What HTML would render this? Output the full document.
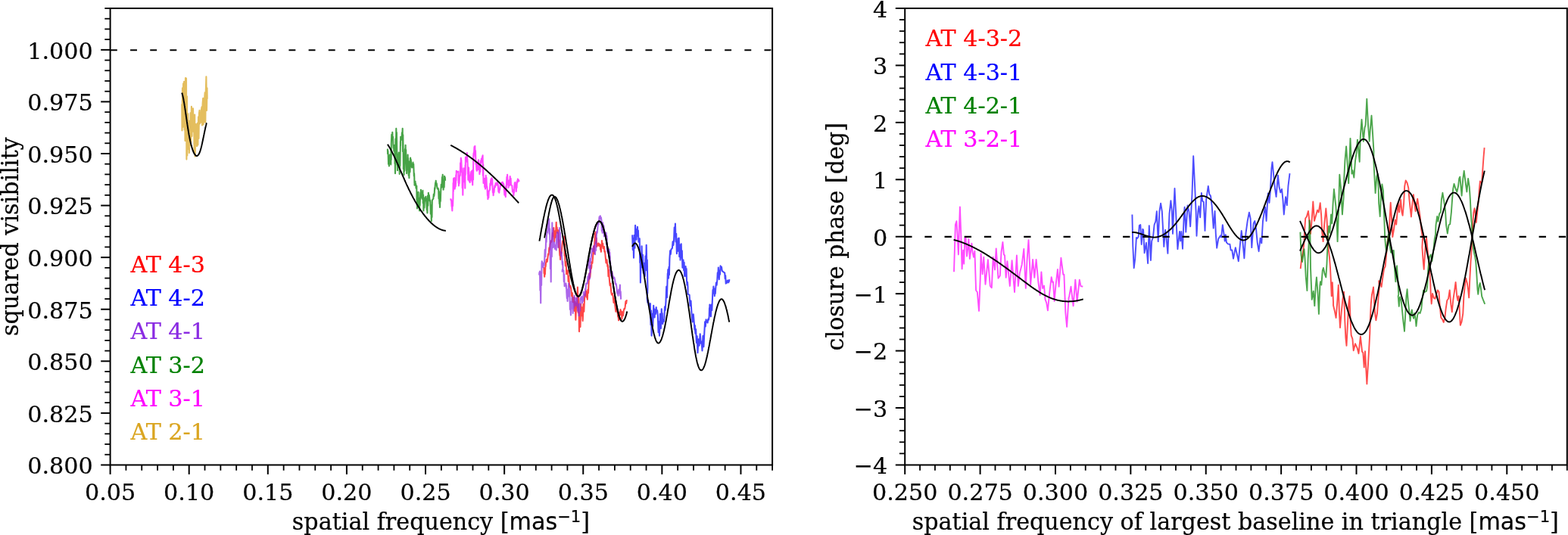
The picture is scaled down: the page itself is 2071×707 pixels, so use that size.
<!DOCTYPE html>
<html><head><meta charset="utf-8"><title>plot</title>
<style>
html,body{margin:0;padding:0;background:#fff}
svg{display:block}
.t{font-family:"DejaVu Serif","Liberation Serif",serif;font-size:30.5px;stroke-width:0.22px}
.s{font-family:"DejaVu Sans","Liberation Sans",sans-serif}
</style></head><body>
<svg width="2071" height="707" viewBox="0 0 2071 707">
<rect width="2071" height="707" fill="#fff"/>
<path d="M718.4 353.1 L718.6 361.2 L718.9 358.2 L719.2 365.6 L719.5 359.4 L719.9 362.4 L720.3 353.1 L720.5 350.6 L720.7 352.3 L720.9 348.6 L721.8 342.9 L722.7 345.9 L723.7 338.4 L724.1 335.5 L724.4 336.9 L724.8 333.9 L725.4 327.3 L726.0 329.9 L726.5 323.7 L727.5 318.5 L728.4 319.6 L729.3 314.6 L730.0 307.7 L730.6 309.4 L731.3 301.0 L731.6 312.8 L731.9 307.3 L732.2 319.2 L733.0 305.2 L733.8 313.6 L734.7 293.7 L735.2 304.7 L735.7 300.6 L736.1 307.8 L736.5 305.8 L736.9 306.5 L737.3 304.4 L737.8 326.4 L738.4 317.0 L739.0 331.6 L739.4 337.6 L739.7 333.5 L740.1 343.0 L740.9 332.8 L741.6 334.7 L742.4 324.8 L743.3 318.2 L744.3 321.1 L745.2 312.4 L745.6 337.9 L746.0 322.7 L746.3 343.0 L746.9 351.4 L747.5 345.9 L748.0 354.3 L748.1 360.2 L748.1 357.8 L748.1 362.3 L748.7 359.8 L749.3 360.3 L750.0 357.4 L750.6 372.0 L751.2 364.5 L751.8 374.6 L752.6 379.1 L753.4 377.8 L754.3 382.0 L755.1 391.3 L755.9 387.3 L756.7 399.3 L757.1 394.2 L757.5 397.7 L758.0 393.1 L758.8 410.9 L759.6 398.9 L760.4 422.7 L761.2 400.8 L762.1 406.0 L762.9 379.6 L763.6 413.1 L764.3 393.8 L765.0 438.1 L765.7 413.6 L766.5 431.9 L767.2 401.7 L768.0 417.3 L768.8 406.2 L769.7 423.9 L770.5 402.1 L771.3 411.7 L772.1 393.1 L772.7 388.5 L773.3 390.6 L774.0 384.5 L774.6 392.7 L775.2 387.8 L775.8 395.6 L776.4 382.8 L777.0 387.3 L777.7 370.9 L778.5 361.0 L779.3 366.5 L780.1 357.4 L780.5 351.3 L780.9 354.8 L781.4 350.0 L781.2 353.5 L781.0 350.8 L780.9 354.3 L781.6 346.2 L782.4 347.9 L783.1 339.6 L783.9 325.8 L784.7 335.1 L785.4 318.0 L785.8 308.7 L786.2 315.0 L786.5 306.7 L787.1 321.4 L787.7 314.5 L788.2 326.0 L789.0 322.3 L789.7 324.3 L790.5 321.4 L791.3 324.9 L792.0 322.7 L792.8 326.0 L793.1 330.0 L793.5 329.1 L793.9 332.8 L794.3 323.2 L794.7 325.6 L795.0 318.0 L795.6 325.5 L796.2 321.8 L796.7 328.2 L797.9 326.0 L798.4 332.7 L799.0 332.0 L799.6 338.4 L800.5 347.4 L801.5 343.2 L802.4 352.0 L803.5 354.3 L803.3 351.5 L803.1 353.3 L802.9 350.0 L803.5 365.1 L804.1 356.5 L804.8 368.5 L805.6 377.1 L806.4 374.8 L807.2 385.7 L808.0 389.5 L808.9 387.8 L809.7 391.9 L810.5 399.9 L811.3 394.6 L812.1 401.7 L813.4 411.8 L814.6 406.3 L815.8 414.0 L816.2 418.7 L816.7 418.4 L817.1 423.3 L817.9 412.8 L818.7 416.2 L819.5 409.1 L820.1 416.0 L820.8 411.6 L821.4 421.4 L822.2 412.3 L823.0 417.1 L823.8 410.3 L824.5 407.8 L825.1 408.3 L825.7 405.4 L826.4 398.4 L827.1 401.0 L827.8 396.2" fill="none" stroke="#ff0000" stroke-width="2.1" stroke-opacity="0.72" stroke-linejoin="round" stroke-linecap="butt"/>
<path d="M835.2 310.4 L835.8 330.3 L836.4 315.2 L837.0 340.8 L837.7 311.0 L838.4 327.8 L839.1 297.7 L839.6 310.0 L840.1 302.8 L840.6 316.8 L841.0 307.1 L841.5 310.6 L842.0 299.8 L842.4 311.8 L842.9 304.6 L843.4 319.6 L843.9 316.6 L844.3 318.2 L844.8 315.4 L845.2 347.1 L845.6 334.5 L845.9 373.4 L846.5 346.2 L847.1 352.9 L847.6 325.3 L848.3 353.5 L849.0 336.7 L849.8 360.6 L850.0 350.5 L850.2 358.4 L850.5 347.9 L850.9 359.4 L851.4 350.8 L851.9 364.9 L852.5 338.2 L853.1 357.3 L853.7 323.8 L854.3 353.9 L854.8 343.6 L855.4 379.0 L855.2 387.7 L854.9 381.8 L854.7 394.0 L855.4 399.8 L856.1 396.7 L856.8 403.9 L858.9 401.1 L859.5 429.3 L860.1 410.5 L860.6 443.6 L861.5 414.9 L862.3 430.9 L863.2 403.9 L863.7 414.5 L864.1 408.4 L864.6 419.5 L865.3 409.1 L866.0 414.8 L866.7 406.1 L867.4 412.0 L868.1 410.3 L868.8 416.7 L869.6 439.2 L870.3 425.4 L871.0 443.6 L871.9 414.9 L872.9 434.0 L873.8 408.2 L874.3 422.0 L874.7 414.1 L875.2 428.0 L875.9 423.4 L876.6 425.0 L877.3 420.9 L878.0 405.4 L878.7 410.0 L879.5 398.3 L880.2 378.8 L880.9 393.2 L881.6 370.0 L881.8 361.4 L882.0 363.9 L882.3 356.4 L882.5 363.6 L882.8 358.2 L883.0 367.7 L883.5 352.8 L883.9 363.3 L884.4 342.2 L885.1 331.4 L885.8 336.0 L886.5 329.5 L887.9 328.1 L888.6 319.3 L889.4 324.0 L890.1 316.8 L890.7 300.5 L891.3 312.3 L891.9 295.6 L892.6 319.4 L893.2 308.8 L893.9 335.2 L894.5 322.8 L895.1 331.9 L895.7 315.4 L896.7 314.7 L897.3 339.1 L897.9 323.5 L898.6 343.6 L898.9 329.3 L899.3 338.1 L899.7 322.4 L900.2 340.8 L900.8 331.3 L901.4 353.6 L901.8 345.7 L902.1 349.5 L902.5 343.6 L903.1 357.1 L903.6 346.9 L904.2 364.9 L904.7 354.9 L905.2 361.8 L905.6 352.1 L906.1 365.1 L906.6 355.1 L907.0 370.5 L907.5 376.7 L908.0 372.9 L908.5 379.0 L908.5 385.3 L908.5 381.8 L908.5 388.4 L910.6 389.8 L911.5 403.9 L912.5 397.6 L913.4 412.4 L914.6 425.5 L915.8 415.4 L916.9 428.0 L917.4 435.8 L917.9 430.1 L918.4 440.7 L918.6 436.4 L918.8 438.6 L919.1 435.1 L919.9 453.0 L920.7 444.3 L921.5 466.2 L922.5 448.2 L923.6 456.7 L924.7 441.4 L925.7 453.7 L926.6 451.5 L927.5 463.4 L928.5 443.7 L929.4 458.3 L930.4 437.9 L931.1 425.4 L931.8 431.5 L932.5 422.3 L933.2 425.6 L933.9 423.8 L934.6 426.6 L935.3 421.7 L936.0 422.6 L936.7 418.1 L937.0 407.1 L937.2 413.9 L937.4 402.5 L937.9 411.7 L938.4 409.8 L938.9 418.1 L939.6 402.5 L940.3 409.9 L941.0 394.0 L941.5 383.0 L941.9 387.2 L942.4 378.5 L942.9 387.6 L943.3 381.2 L943.8 391.2 L944.3 384.2 L944.8 388.0 L945.2 381.3 L945.9 373.5 L946.6 376.8 L947.3 370.0 L947.8 360.4 L948.3 366.5 L948.8 353.6 L949.1 361.9 L949.4 357.4 L949.8 369.1 L950.4 360.2 L951.0 362.6 L951.6 351.4 L952.3 355.3 L953.0 352.8 L953.7 357.8 L955.1 359.2 L957.2 360.6 L957.7 368.2 L958.2 364.1 L958.7 374.8 L959.4 372.3 L960.1 373.7 L960.8 370.5 L962.2 373.4 L962.6 370.5 L963.0 371.9 L963.3 369.1" fill="none" stroke="#0000ff" stroke-width="2.1" stroke-opacity="0.72" stroke-linejoin="round" stroke-linecap="butt"/>
<path d="M712.1 363.5 L712.4 360.1 L712.7 361.6 L713.0 358.6 L713.4 383.8 L713.8 372.4 L714.2 400.5 L714.6 359.5 L715.1 377.1 L715.5 350.0 L715.6 347.4 L715.7 348.9 L715.8 345.2 L716.3 349.3 L716.9 347.6 L717.5 353.1 L718.0 348.5 L718.6 350.3 L719.2 344.1 L719.7 330.1 L720.3 339.3 L720.9 324.8 L721.2 314.8 L721.6 320.0 L722.0 311.2 L722.6 305.5 L723.1 307.3 L723.7 299.9 L724.2 293.6 L724.7 296.7 L725.2 289.2 L725.6 309.2 L726.1 302.3 L726.5 322.6 L726.9 355.2 L727.3 332.8 L727.7 372.4 L728.2 318.4 L728.8 339.3 L729.3 294.3 L729.7 314.2 L730.1 301.7 L730.5 327.1 L731.0 322.8 L731.6 323.8 L732.2 320.3 L733.0 328.9 L733.8 324.2 L734.7 330.5 L735.2 311.1 L735.7 319.9 L736.1 306.7 L736.5 319.6 L736.9 310.4 L737.3 327.1 L737.8 308.1 L738.4 318.1 L739.0 301.0 L739.4 318.8 L739.9 307.5 L740.3 329.4 L741.0 338.1 L741.7 333.6 L742.4 343.0 L742.8 349.7 L743.1 345.8 L743.5 354.3 L743.2 357.1 L742.9 356.2 L742.6 358.6 L744.4 357.4 L744.8 372.2 L745.2 362.6 L745.6 378.3 L746.3 376.1 L746.9 377.2 L747.5 374.6 L747.8 381.0 L748.1 377.1 L748.3 385.7 L748.8 394.1 L749.2 387.9 L749.6 398.0 L750.1 382.4 L750.6 391.6 L751.2 374.6 L751.6 383.8 L752.0 379.7 L752.4 386.9 L752.9 408.9 L753.4 398.5 L753.9 416.5 L754.4 401.7 L755.0 407.5 L755.5 393.1 L755.9 406.1 L756.3 400.4 L756.7 414.0 L757.3 399.7 L758.0 406.9 L758.6 390.6 L759.2 397.7 L759.8 393.8 L760.4 404.2 L761.0 394.9 L761.7 401.6 L762.3 393.1 L763.1 410.9 L763.9 402.2 L764.7 417.1 L765.3 401.8 L766.0 410.7 L766.6 396.8 L767.2 393.3 L767.8 395.9 L768.4 391.9 L768.6 396.4 L768.8 393.8 L769.0 400.5 L769.7 392.3 L770.3 397.8 L770.9 385.7 L771.5 388.4 L772.1 387.4 L772.7 390.6 L773.1 381.6 L773.6 382.9 L774.0 374.6 L775.8 374.6 L776.4 365.5 L777.0 370.5 L777.7 362.3 L778.1 366.9 L778.5 363.8 L778.9 368.5 L779.3 353.2 L779.7 360.3 L780.1 350.0 L779.2 353.2 L778.4 351.4 L777.5 354.3 L778.6 341.7 L779.7 347.8 L780.9 338.4 L782.0 328.5 L783.1 332.0 L784.3 324.8 L784.8 333.0 L785.4 328.0 L786.0 336.2 L786.5 319.7 L787.1 331.0 L787.7 312.4 L788.2 305.9 L788.8 307.8 L789.4 301.0 L789.9 294.0 L790.5 296.6 L791.1 292.0 L791.6 286.6 L792.2 289.7 L792.8 285.2 L793.3 288.8 L793.9 287.4 L794.5 292.0 L794.8 305.1 L795.2 298.7 L795.6 307.8 L795.8 298.7 L796.0 303.6 L796.2 294.3 L796.7 304.7 L797.3 298.1 L797.9 312.4 L798.8 310.0 L799.8 310.3 L800.7 307.8 L801.1 323.4 L801.5 312.1 L801.8 329.4 L802.2 332.3 L802.6 330.1 L803.0 333.9 L803.5 331.3 L804.1 332.1 L804.7 329.4 L805.0 339.3 L805.4 333.7 L805.8 343.0 L806.0 349.7 L806.2 347.2 L806.4 354.3 L806.0 356.2 L807.2 364.4 L808.4 359.1 L809.7 366.0 L810.5 367.9 L811.3 366.6 L812.1 369.7 L813.0 375.6 L813.8 375.1 L814.6 380.8 L815.2 387.6 L815.8 385.2 L816.5 390.6 L817.3 382.7 L818.1 387.2 L818.9 376.5 L819.3 390.6 L819.7 385.3 L820.1 395.6" fill="none" stroke="#8a2be2" stroke-width="2.1" stroke-opacity="0.72" stroke-linejoin="round" stroke-linecap="butt"/>
<path d="M511.9 196.6 L512.1 203.3 L512.4 199.3 L512.7 204.6 L513.1 217.0 L513.5 210.5 L513.9 219.4 L514.2 208.4 L514.5 216.1 L514.9 204.6 L515.1 210.4 L515.4 205.6 L515.6 211.5 L515.9 215.0 L516.1 213.3 L516.3 217.4 L516.5 196.0 L516.7 211.3 L516.8 189.7 L517.3 177.8 L517.8 182.4 L518.3 174.9 L518.6 184.2 L519.0 180.9 L519.3 191.7 L519.6 195.7 L520.0 193.9 L520.3 199.6 L520.6 195.5 L521.0 195.8 L521.3 191.7 L521.5 216.2 L521.7 209.8 L522.0 229.3 L522.4 183.3 L522.8 202.4 L523.3 169.9 L523.6 186.6 L523.9 175.1 L524.3 199.6 L524.5 217.9 L524.7 205.0 L525.0 225.3 L525.3 213.4 L525.6 220.7 L525.9 209.5 L526.2 204.1 L526.5 205.7 L526.7 201.6 L527.1 220.9 L527.4 206.9 L527.7 229.9 L528.1 213.1 L528.4 219.6 L528.7 199.6 L528.9 186.7 L529.0 192.6 L529.2 180.8 L529.6 183.3 L530.1 182.3 L530.5 184.8 L530.9 175.3 L531.3 179.3 L531.7 169.9 L532.0 200.3 L532.3 178.3 L532.7 209.5 L532.9 223.3 L533.2 216.6 L533.5 231.3 L533.8 215.2 L534.1 226.1 L534.5 209.5 L534.9 197.1 L535.2 202.9 L535.6 191.7 L535.9 210.2 L536.2 198.0 L536.4 214.5 L536.7 225.2 L537.0 217.7 L537.2 229.3 L537.7 212.6 L538.2 224.0 L538.6 204.6 L538.9 216.8 L539.1 209.0 L539.4 219.4 L539.7 231.9 L540.1 224.1 L540.4 235.2 L541.0 213.4 L541.5 227.4 L542.1 208.5 L542.4 212.8 L542.7 210.9 L543.1 215.4 L543.4 220.2 L543.7 218.1 L544.1 221.4 L544.6 216.5 L545.0 220.1 L545.5 214.5 L545.9 221.5 L546.2 216.8 L546.5 224.4 L546.8 232.6 L547.1 229.4 L547.3 235.2 L547.4 241.7 L547.5 238.7 L547.5 244.8 L547.9 242.2 L548.2 243.1 L548.5 239.9 L548.8 244.7 L549.2 243.1 L549.5 248.8 L550.3 245.8 L550.5 264.4 L550.8 258.2 L551.0 275.5 L551.5 264.2 L552.0 271.4 L552.5 253.7 L553.0 272.0 L553.5 261.9 L554.0 278.5 L554.3 267.4 L554.6 271.4 L555.0 262.6 L555.3 254.7 L555.6 257.5 L555.9 250.7 L556.3 255.4 L556.6 254.0 L556.9 257.7 L557.1 261.3 L557.3 258.7 L557.4 262.6 L557.8 255.8 L558.1 257.7 L558.4 251.7 L558.7 268.4 L559.1 257.5 L559.4 278.5 L559.9 269.2 L560.4 274.5 L560.9 264.6 L561.4 261.1 L561.9 263.1 L562.4 259.7 L562.7 265.5 L563.0 262.6 L563.4 269.6 L563.7 277.2 L564.0 275.1 L564.4 281.4 L564.9 258.9 L565.3 271.6 L565.8 254.7 L566.3 258.9 L566.8 257.9 L567.3 262.6 L567.7 265.5 L568.0 264.4 L568.3 266.6 L568.8 282.6 L569.3 271.0 L569.8 292.3 L570.1 272.5 L570.5 287.0 L570.8 264.6 L572.3 262.6 L572.8 256.6 L573.3 259.2 L573.8 254.7 L574.1 248.3 L574.4 249.9 L574.8 244.8 L575.1 241.5 L575.4 242.0 L575.7 238.9 L576.2 244.1 L576.7 242.2 L577.2 246.8 L577.9 249.8 L578.5 248.7 L579.2 250.7 L579.5 262.4 L579.9 253.0 L580.2 264.6 L580.5 269.4 L580.7 267.8 L581.0 274.0 L581.4 263.1 L581.8 265.9 L582.2 252.7 L582.7 243.9 L583.2 247.8 L583.7 239.9 L584.0 234.0 L584.3 237.7 L584.7 230.9 L585.0 247.4 L585.3 239.0 L585.6 250.7 L586.1 241.8 L586.6 247.4 L587.1 232.9 L587.5 237.2 L587.8 234.4 L588.1 238.9" fill="none" stroke="#008000" stroke-width="2.1" stroke-opacity="0.72" stroke-linejoin="round" stroke-linecap="butt"/>
<path d="M595.2 262.4 L595.5 264.3 L595.9 263.9 L596.2 265.7 L596.6 273.0 L596.9 271.8 L597.3 278.5 L597.7 267.1 L598.0 272.3 L598.4 261.5 L598.6 241.9 L598.8 253.1 L599.0 236.0 L600.1 235.2 L600.3 243.9 L600.5 238.3 L600.7 249.6 L601.1 245.6 L601.6 246.5 L602.0 242.0 L602.3 231.4 L602.5 238.6 L602.8 225.8 L604.1 227.5 L605.4 226.6 L605.5 241.8 L605.7 231.2 L605.9 245.4 L606.2 237.7 L606.6 242.4 L606.9 233.5 L607.8 231.8 L608.1 215.2 L608.4 223.7 L608.8 208.8 L609.1 216.0 L609.3 211.3 L609.6 219.0 L609.9 227.7 L610.2 222.4 L610.5 233.5 L610.7 248.4 L611.0 238.3 L611.3 257.7 L611.7 238.0 L612.2 240.5 L612.6 222.4 L612.9 228.8 L613.2 224.0 L613.4 230.1 L613.7 239.6 L614.0 234.2 L614.3 248.8 L614.5 218.4 L614.7 231.5 L614.9 207.9 L615.2 210.1 L615.6 209.5 L616.0 212.3 L616.3 207.1 L616.6 208.9 L616.8 202.0 L617.1 214.3 L617.4 210.4 L617.7 219.0 L617.9 230.1 L618.1 227.1 L618.3 237.7 L618.5 224.7 L618.7 230.1 L619.0 221.5 L619.2 230.4 L619.5 227.1 L619.8 239.3 L620.7 241.1 L621.1 231.8 L621.5 237.9 L621.9 230.1 L622.4 226.7 L622.8 228.6 L623.2 225.8 L623.5 240.2 L623.9 231.8 L624.2 244.5 L624.6 224.6 L625.0 237.5 L625.3 205.4 L625.6 202.2 L625.9 204.0 L626.2 199.5 L626.5 194.1 L626.9 197.1 L627.3 193.1 L627.6 206.8 L628.0 199.1 L628.3 210.5 L628.6 217.3 L628.9 214.6 L629.1 219.9 L629.4 224.7 L629.7 222.7 L630.0 225.8 L630.4 218.5 L630.8 224.1 L631.3 216.5 L631.5 213.3 L631.8 215.7 L632.1 211.3 L632.5 224.3 L633.0 219.4 L633.4 230.1 L633.8 223.1 L634.2 227.2 L634.7 216.5 L635.1 212.2 L635.5 214.9 L635.9 209.6 L636.8 212.3 L637.1 206.9 L637.3 210.4 L637.6 205.4 L637.9 231.9 L638.2 217.2 L638.5 242.0 L638.9 237.8 L639.3 239.1 L639.8 236.0 L640.2 247.3 L640.6 238.6 L641.0 249.6 L641.3 235.4 L641.5 244.8 L641.7 231.7 L642.0 237.6 L642.4 234.8 L642.7 242.7 L643.0 248.0 L643.3 246.5 L643.6 250.5 L643.9 258.5 L644.1 252.4 L644.4 263.2 L644.8 255.0 L645.3 261.3 L645.7 253.0 L647.0 250.5 L647.4 242.5 L647.8 245.1 L648.2 238.6 L648.7 236.3 L649.1 237.5 L649.5 235.2 L649.9 243.8 L650.2 236.9 L650.5 246.2 L650.9 254.5 L651.3 249.7 L651.6 258.1 L652.1 250.2 L652.5 254.1 L652.9 248.8 L653.5 245.2 L654.0 247.3 L654.6 242.0 L655.6 244.5 L656.0 242.3 L656.4 243.2 L656.7 241.1 L657.2 244.8 L657.6 242.8 L658.0 247.1 L658.4 253.4 L658.9 250.8 L659.3 254.7 L659.7 249.3 L660.1 250.8 L660.6 246.2 L661.0 243.6 L661.4 245.5 L661.8 242.0 L663.9 240.7 L664.5 244.5 L665.1 242.8 L665.6 246.2 L666.4 257.6 L667.1 253.1 L667.8 260.2 L668.2 246.2 L668.6 252.6 L669.0 242.0 L669.4 233.7 L669.8 237.6 L670.1 230.9 L670.6 244.0 L671.1 239.3 L671.6 247.9 L672.3 238.5 L673.0 245.3 L673.7 233.1 L674.1 239.8 L674.6 235.7 L675.0 244.5 L676.3 245.4 L677.0 253.4 L677.7 250.9 L678.4 258.1 L678.7 251.9 L679.1 254.5 L679.4 246.2 L679.8 241.9 L680.1 244.9 L680.5 240.7 L680.9 247.1 L681.3 243.6 L681.8 253.0 L682.1 247.2 L682.5 248.2 L682.8 242.0 L683.2 238.9 L683.5 240.8 L683.9 236.5 L684.5 239.5 L685.0 238.1 L685.6 240.3" fill="none" stroke="#ff00ff" stroke-width="2.1" stroke-opacity="0.72" stroke-linejoin="round" stroke-linecap="butt"/>
<path d="M240.2 137.4 L240.5 172.4 L241.0 116.2 L241.5 168.0 L242.1 110.3 L242.6 162.9 L243.1 107.7 L243.6 171.4 L244.1 107.7 L244.5 186.0 L245.0 103.1 L245.5 179.9 L246.0 103.5 L246.4 210.6 L246.9 127.3 L247.3 205.4 L247.8 171.4 L248.3 150.2 L248.8 196.9 L249.4 159.5 L249.9 202.1 L250.5 162.9 L251.0 192.6 L251.6 149.3 L252.2 188.4 L252.9 140.8 L253.5 179.9 L254.0 145.9 L254.5 171.4 L255.0 143.4 L255.6 173.9 L256.1 154.4 L256.6 201.1 L257.2 151.5 L257.7 206.8 L258.2 163.8 L258.9 188.4 L259.5 164.6 L260.1 193.2 L260.7 162.9 L261.4 191.5 L262.0 154.4 L262.5 183.0 L263.0 149.3 L263.5 145.9 L264.0 163.5 L264.6 150.2 L265.1 161.8 L265.8 145.9 L266.5 141.3 L267.0 165.6 L267.6 137.4 L268.2 129.8 L268.7 164.4 L269.2 139.1 L269.7 161.2 L270.2 129.0 L270.7 122.2 L271.3 161.8 L271.8 120.5 L272.4 101.4 L273.0 145.9 L273.5 116.2 L273.7 130.7" fill="none" stroke="#daa520" stroke-width="2.1" stroke-opacity="0.72" stroke-linejoin="round" stroke-linecap="butt"/>
<path d="M719.1 314.4 L719.4 313.0 L719.6 311.5 L719.9 310.0 L720.2 308.5 L720.5 307.0 L720.7 305.5 L721.0 304.0 L721.3 302.4 L721.6 300.9 L721.8 299.3 L722.1 297.8 L722.4 296.2 L722.7 294.7 L722.9 293.2 L723.2 291.6 L723.5 290.1 L723.7 288.6 L724.0 287.1 L724.3 285.6 L724.6 284.2 L724.8 282.8 L725.1 281.4 L725.4 280.0 L725.7 278.6 L725.9 277.3 L726.2 276.0 L726.5 274.8 L726.8 273.5 L727.0 272.4 L727.3 271.2 L727.6 270.1 L727.9 269.1 L728.1 268.1 L728.4 267.1 L728.7 266.2 L728.9 265.4 L729.2 264.6 L729.5 263.9 L729.8 263.2 L730.0 262.6 L730.3 262.0 L730.6 261.6 L730.9 261.2 L731.1 260.8 L731.4 260.5 L731.7 260.3 L732.0 260.1 L732.2 260.0 L732.5 260.0 L732.8 260.0 L733.1 260.0 L733.3 260.1 L733.6 260.3 L733.9 260.5 L734.1 260.8 L734.4 261.1 L734.7 261.5 L735.0 261.9 L735.2 262.4 L735.5 262.9 L735.8 263.4 L736.1 264.0 L736.3 264.7 L736.6 265.4 L736.9 266.1 L737.2 266.9 L737.4 267.7 L737.7 268.6 L738.0 269.5 L738.3 270.4 L738.5 271.4 L738.8 272.4 L739.1 273.4 L739.3 274.5 L739.6 275.6 L739.9 276.8 L740.2 277.9 L740.4 279.1 L740.7 280.4 L741.0 281.6 L741.3 282.9 L741.5 284.2 L741.8 285.6 L742.1 287.0 L742.4 288.3 L742.6 289.8 L742.9 291.2 L743.2 292.6 L743.5 294.1 L743.7 295.6 L744.0 297.1 L744.3 298.7 L744.5 300.2 L744.8 301.8 L745.1 303.4 L745.4 305.0 L745.6 306.6 L745.9 308.2 L746.2 309.8 L746.5 311.5 L746.7 313.1 L747.0 314.8 L747.3 316.5 L747.6 318.2 L747.8 319.9 L748.1 321.5 L748.4 323.3 L748.7 325.0 L748.9 326.7 L749.2 328.4 L749.5 330.1 L749.7 331.8 L750.0 333.5 L750.3 335.2 L750.6 336.9 L750.8 338.7 L751.1 340.4 L751.4 342.1 L751.7 343.8 L751.9 345.5 L752.2 347.1 L752.5 348.8 L752.8 350.5 L753.0 352.1 L753.3 353.8 L753.6 355.4 L753.9 357.0 L754.1 358.6 L754.4 360.2 L754.7 361.7 L754.9 363.3 L755.2 364.8 L755.5 366.3 L755.8 367.7 L756.0 369.1 L756.3 370.5 L756.6 371.9 L756.9 373.2 L757.1 374.5 L757.4 375.8 L757.7 377.0 L758.0 378.2 L758.2 379.4 L758.5 380.5 L758.8 381.5 L759.1 382.6 L759.3 383.5 L759.6 384.5 L759.9 385.3 L760.1 386.2 L760.4 386.9 L760.7 387.7 L761.0 388.3 L761.2 388.9 L761.5 389.5 L761.8 390.0 L762.1 390.4 L762.3 390.8 L762.6 391.1 L762.9 391.3 L763.2 391.5 L763.4 391.6 L763.7 391.6 L764.0 391.6 L764.3 391.5 L764.5 391.4 L764.8 391.2 L765.1 390.9 L765.3 390.6 L765.6 390.2 L765.9 389.8 L766.2 389.3 L766.4 388.8 L766.7 388.2 L767.0 387.6 L767.3 386.9 L767.5 386.2 L767.8 385.4 L768.1 384.6 L768.4 383.8 L768.6 382.9 L768.9 382.0 L769.2 381.0 L769.4 380.0 L769.7 378.9 L770.0 377.9 L770.3 376.8 L770.5 375.6 L770.8 374.5 L771.1 373.3 L771.4 372.0 L771.6 370.8 L771.9 369.5 L772.2 368.2 L772.5 366.9 L772.7 365.5 L773.0 364.2 L773.3 362.8 L773.6 361.4 L773.8 359.9 L774.1 358.5 L774.4 357.0 L774.6 355.6 L774.9 354.1 L775.2 352.6 L775.5 351.1 L775.7 349.6 L776.0 348.1 L776.3 346.6 L776.6 345.1 L776.8 343.6 L777.1 342.0 L777.4 340.5 L777.7 339.0 L777.9 337.5 L778.2 336.0 L778.5 334.5 L778.8 333.0 L779.0 331.5 L779.3 330.0 L779.6 328.6 L779.8 327.1 L780.1 325.7 L780.4 324.3 L780.7 322.8 L780.9 321.5 L781.2 320.1 L781.5 318.7 L781.8 317.4 L782.0 316.1 L782.3 314.8 L782.6 313.6 L782.9 312.3 L783.1 311.2 L783.4 310.0 L783.7 308.8 L784.0 307.7 L784.2 306.7 L784.5 305.6 L784.8 304.6 L785.0 303.7 L785.3 302.8 L785.6 301.9 L785.9 301.0 L786.1 300.2 L786.4 299.4 L786.7 298.7 L787.0 298.0 L787.2 297.4 L787.5 296.7 L787.8 296.2 L788.1 295.6 L788.3 295.1 L788.6 294.7 L788.9 294.3 L789.2 293.9 L789.4 293.6 L789.7 293.3 L790.0 293.0 L790.2 292.8 L790.5 292.6 L790.8 292.5 L791.1 292.4 L791.3 292.4 L791.6 292.4 L791.9 292.4 L792.2 292.5 L792.4 292.7 L792.7 292.9 L793.0 293.1 L793.3 293.4 L793.5 293.7 L793.8 294.0 L794.1 294.4 L794.4 294.9 L794.6 295.4 L794.9 295.9 L795.2 296.5 L795.4 297.1 L795.7 297.8 L796.0 298.5 L796.3 299.3 L796.5 300.1 L796.8 301.0 L797.1 301.9 L797.4 302.9 L797.6 303.8 L797.9 304.9 L798.2 305.9 L798.5 307.0 L798.7 308.2 L799.0 309.4 L799.3 310.6 L799.6 311.8 L799.8 313.1 L800.1 314.4 L800.4 315.8 L800.6 317.2 L800.9 318.6 L801.2 320.0 L801.5 321.5 L801.7 323.0 L802.0 324.5 L802.3 326.0 L802.6 327.6 L802.8 329.2 L803.1 330.8 L803.4 332.5 L803.7 334.2 L803.9 335.9 L804.2 337.6 L804.5 339.3 L804.8 341.0 L805.0 342.8 L805.3 344.6 L805.6 346.4 L805.8 348.2 L806.1 350.0 L806.4 351.9 L806.7 353.7 L806.9 355.6 L807.2 357.4 L807.5 359.3 L807.8 361.2 L808.0 363.1 L808.3 365.0 L808.6 366.9 L808.9 368.7 L809.1 370.6 L809.4 372.5 L809.7 374.4 L810.0 376.2 L810.2 378.1 L810.5 379.9 L810.8 381.7 L811.0 383.6 L811.3 385.3 L811.6 387.1 L811.9 388.9 L812.1 390.6 L812.4 392.3 L812.7 394.0 L813.0 395.6 L813.2 397.3 L813.5 398.9 L813.8 400.4 L814.1 401.9 L814.3 403.4 L814.6 404.9 L814.9 406.3 L815.2 407.6 L815.4 409.0 L815.7 410.2 L816.0 411.5 L816.2 412.7 L816.5 413.8 L816.8 414.9 L817.1 415.9 L817.3 416.9 L817.6 417.8 L817.9 418.6 L818.2 419.4 L818.4 420.2 L818.7 420.9 L819.0 421.5 L819.3 422.1 L819.5 422.6 L819.8 423.0 L820.1 423.4 L820.4 423.8 L820.6 424.1 L820.9 424.3 L821.2 424.5 L821.4 424.7 L821.7 424.7 L822.0 424.8 L822.3 424.7 L822.5 424.7 L822.8 424.5 L823.1 424.4 L823.4 424.1 L823.6 423.8 L823.9 423.5 L824.2 423.1 L824.5 422.7 L824.7 422.2 L825.0 421.7 L825.3 421.1 L825.6 420.5 L825.8 419.8 L826.1 419.0 L826.4 418.3 L826.6 417.4 L826.9 416.6 L827.2 415.6 L827.5 414.7 L827.7 413.7 L828.0 412.6 L828.3 411.5" fill="none" stroke="#000" stroke-width="1.95" stroke-opacity="1.0" stroke-linejoin="round" stroke-linecap="butt"/>
<path d="M835.2 326.0 L835.5 325.2 L835.8 324.5 L836.1 323.8 L836.5 323.3 L836.8 322.8 L837.1 322.4 L837.4 322.0 L837.8 321.8 L838.1 321.6 L838.4 321.5 L838.7 321.4 L839.0 321.4 L839.4 321.5 L839.7 321.7 L840.0 321.9 L840.3 322.2 L840.6 322.6 L841.0 323.0 L841.3 323.5 L841.6 324.0 L841.9 324.7 L842.2 325.3 L842.6 326.1 L842.9 326.9 L843.2 327.8 L843.5 328.7 L843.8 329.7 L844.2 330.8 L844.5 331.9 L844.8 333.1 L845.1 334.3 L845.4 335.6 L845.8 336.9 L846.1 338.3 L846.4 339.8 L846.7 341.3 L847.1 342.9 L847.4 344.5 L847.7 346.1 L848.0 347.8 L848.3 349.6 L848.7 351.4 L849.0 353.2 L849.3 355.0 L849.6 356.9 L849.9 358.8 L850.3 360.8 L850.6 362.8 L850.9 364.8 L851.2 366.8 L851.5 368.8 L851.9 370.9 L852.2 373.0 L852.5 375.1 L852.8 377.2 L853.1 379.3 L853.5 381.4 L853.8 383.6 L854.1 385.7 L854.4 387.8 L854.8 390.0 L855.1 392.1 L855.4 394.2 L855.7 396.4 L856.0 398.5 L856.4 400.6 L856.7 402.7 L857.0 404.7 L857.3 406.8 L857.6 408.8 L858.0 410.8 L858.3 412.8 L858.6 414.8 L858.9 416.7 L859.2 418.6 L859.6 420.5 L859.9 422.4 L860.2 424.2 L860.5 426.0 L860.8 427.7 L861.2 429.4 L861.5 431.1 L861.8 432.7 L862.1 434.2 L862.5 435.8 L862.8 437.2 L863.1 438.6 L863.4 440.0 L863.7 441.3 L864.1 442.6 L864.4 443.8 L864.7 444.9 L865.0 446.0 L865.3 447.0 L865.7 447.9 L866.0 448.8 L866.3 449.6 L866.6 450.3 L866.9 451.0 L867.3 451.5 L867.6 452.0 L867.9 452.5 L868.2 452.8 L868.5 453.1 L868.9 453.3 L869.2 453.4 L869.5 453.5 L869.8 453.5 L870.2 453.4 L870.5 453.2 L870.8 453.0 L871.1 452.7 L871.4 452.4 L871.8 451.9 L872.1 451.4 L872.4 450.9 L872.7 450.3 L873.0 449.6 L873.4 448.9 L873.7 448.1 L874.0 447.2 L874.3 446.3 L874.6 445.4 L875.0 444.3 L875.3 443.3 L875.6 442.1 L875.9 441.0 L876.2 439.7 L876.6 438.4 L876.9 437.1 L877.2 435.7 L877.5 434.3 L877.9 432.8 L878.2 431.3 L878.5 429.7 L878.8 428.1 L879.1 426.4 L879.5 424.8 L879.8 423.0 L880.1 421.3 L880.4 419.5 L880.7 417.7 L881.1 415.9 L881.4 414.1 L881.7 412.2 L882.0 410.4 L882.3 408.5 L882.7 406.7 L883.0 404.8 L883.3 402.9 L883.6 401.0 L883.9 399.2 L884.3 397.3 L884.6 395.5 L884.9 393.7 L885.2 391.9 L885.6 390.1 L885.9 388.3 L886.2 386.6 L886.5 384.9 L886.8 383.2 L887.2 381.6 L887.5 380.0 L887.8 378.5 L888.1 376.9 L888.4 375.5 L888.8 374.1 L889.1 372.7 L889.4 371.4 L889.7 370.2 L890.0 369.0 L890.4 367.8 L890.7 366.7 L891.0 365.7 L891.3 364.7 L891.6 363.8 L892.0 362.9 L892.3 362.1 L892.6 361.4 L892.9 360.7 L893.3 360.1 L893.6 359.5 L893.9 359.0 L894.2 358.5 L894.5 358.1 L894.9 357.8 L895.2 357.5 L895.5 357.3 L895.8 357.1 L896.1 357.0 L896.5 357.0 L896.8 357.1 L897.1 357.2 L897.4 357.3 L897.7 357.6 L898.1 357.9 L898.4 358.2 L898.7 358.7 L899.0 359.2 L899.3 359.7 L899.7 360.4 L900.0 361.1 L900.3 361.8 L900.6 362.6 L901.0 363.5 L901.3 364.5 L901.6 365.5 L901.9 366.6 L902.2 367.7 L902.6 368.9 L902.9 370.1 L903.2 371.4 L903.5 372.8 L903.8 374.2 L904.2 375.6 L904.5 377.1 L904.8 378.7 L905.1 380.3 L905.4 382.0 L905.8 383.6 L906.1 385.4 L906.4 387.2 L906.7 389.0 L907.0 390.9 L907.4 392.8 L907.7 394.7 L908.0 396.7 L908.3 398.7 L908.7 400.8 L909.0 402.8 L909.3 405.0 L909.6 407.1 L909.9 409.3 L910.3 411.5 L910.6 413.8 L910.9 416.0 L911.2 418.3 L911.5 420.6 L911.9 422.9 L912.2 425.2 L912.5 427.5 L912.8 429.9 L913.1 432.2 L913.5 434.5 L913.8 436.8 L914.1 439.1 L914.4 441.4 L914.7 443.7 L915.1 445.9 L915.4 448.1 L915.7 450.3 L916.0 452.5 L916.4 454.6 L916.7 456.7 L917.0 458.8 L917.3 460.8 L917.6 462.8 L918.0 464.7 L918.3 466.5 L918.6 468.3 L918.9 470.1 L919.2 471.7 L919.6 473.3 L919.9 474.9 L920.2 476.3 L920.5 477.7 L920.8 479.0 L921.2 480.2 L921.5 481.4 L921.8 482.4 L922.1 483.4 L922.4 484.3 L922.8 485.2 L923.1 485.9 L923.4 486.6 L923.7 487.2 L924.0 487.7 L924.4 488.2 L924.7 488.5 L925.0 488.9 L925.3 489.1 L925.7 489.2 L926.0 489.3 L926.3 489.3 L926.6 489.3 L926.9 489.2 L927.3 489.0 L927.6 488.7 L927.9 488.4 L928.2 488.0 L928.5 487.5 L928.9 487.0 L929.2 486.4 L929.5 485.7 L929.8 485.0 L930.1 484.2 L930.5 483.4 L930.8 482.5 L931.1 481.5 L931.4 480.5 L931.7 479.4 L932.1 478.2 L932.4 477.0 L932.7 475.7 L933.0 474.4 L933.4 473.1 L933.7 471.7 L934.0 470.2 L934.3 468.8 L934.6 467.2 L935.0 465.7 L935.3 464.1 L935.6 462.5 L935.9 460.9 L936.2 459.2 L936.6 457.5 L936.9 455.8 L937.2 454.1 L937.5 452.4 L937.8 450.6 L938.2 448.9 L938.5 447.1 L938.8 445.3 L939.1 443.6 L939.4 441.8 L939.8 440.1 L940.1 438.3 L940.4 436.6 L940.7 434.8 L941.1 433.1 L941.4 431.4 L941.7 429.7 L942.0 428.1 L942.3 426.4 L942.7 424.8 L943.0 423.2 L943.3 421.7 L943.6 420.1 L943.9 418.6 L944.3 417.2 L944.6 415.7 L944.9 414.3 L945.2 413.0 L945.5 411.6 L945.9 410.4 L946.2 409.1 L946.5 407.9 L946.8 406.8 L947.1 405.7 L947.5 404.6 L947.8 403.6 L948.1 402.6 L948.4 401.7 L948.8 400.9 L949.1 400.1 L949.4 399.3 L949.7 398.6 L950.0 398.0 L950.4 397.4 L950.7 396.9 L951.0 396.5 L951.3 396.1 L951.6 395.8 L952.0 395.5 L952.3 395.3 L952.6 395.2 L952.9 395.2 L953.2 395.3 L953.6 395.4 L953.9 395.5 L954.2 395.8 L954.5 396.1 L954.8 396.5 L955.2 396.9 L955.5 397.4 L955.8 398.0 L956.1 398.6 L956.5 399.3 L956.8 400.0 L957.1 400.8 L957.4 401.7 L957.7 402.6 L958.1 403.6 L958.4 404.6 L958.7 405.7 L959.0 406.8 L959.3 408.0 L959.7 409.2 L960.0 410.5 L960.3 411.8 L960.6 413.2 L960.9 414.6 L961.3 416.0 L961.6 417.5 L961.9 419.0 L962.2 420.6 L962.5 422.2 L962.9 423.9 L963.2 425.6" fill="none" stroke="#000" stroke-width="1.95" stroke-opacity="1.0" stroke-linejoin="round" stroke-linecap="butt"/>
<path d="M712.4 318.6 L712.7 317.0 L713.0 315.5 L713.3 313.9 L713.5 312.4 L713.8 310.9 L714.1 309.3 L714.3 307.8 L714.6 306.3 L714.9 304.8 L715.1 303.3 L715.4 301.8 L715.7 300.3 L716.0 298.9 L716.2 297.4 L716.5 295.9 L716.8 294.5 L717.0 293.1 L717.3 291.7 L717.6 290.3 L717.8 288.9 L718.1 287.6 L718.4 286.3 L718.7 284.9 L718.9 283.7 L719.2 282.4 L719.5 281.1 L719.7 279.9 L720.0 278.7 L720.3 277.5 L720.6 276.4 L720.8 275.3 L721.1 274.2 L721.4 273.1 L721.6 272.1 L721.9 271.1 L722.2 270.1 L722.4 269.1 L722.7 268.2 L723.0 267.4 L723.3 266.5 L723.5 265.7 L723.8 264.9 L724.1 264.2 L724.3 263.5 L724.6 262.9 L724.9 262.2 L725.1 261.7 L725.4 261.1 L725.7 260.6 L726.0 260.1 L726.2 259.7 L726.5 259.3 L726.8 259.0 L727.0 258.6 L727.3 258.4 L727.6 258.1 L727.8 257.9 L728.1 257.8 L728.4 257.7 L728.7 257.6 L728.9 257.6 L729.2 257.6 L729.5 257.7 L729.7 257.8 L730.0 257.9 L730.3 258.1 L730.5 258.3 L730.8 258.6 L731.1 258.9 L731.4 259.3 L731.6 259.7 L731.9 260.1 L732.2 260.6 L732.4 261.2 L732.7 261.8 L733.0 262.4 L733.2 263.1 L733.5 263.8 L733.8 264.6 L734.1 265.4 L734.3 266.3 L734.6 267.2 L734.9 268.2 L735.1 269.2 L735.4 270.3 L735.7 271.3 L735.9 272.5 L736.2 273.6 L736.5 274.8 L736.8 276.1 L737.0 277.3 L737.3 278.6 L737.6 280.0 L737.8 281.3 L738.1 282.7 L738.4 284.1 L738.6 285.6 L738.9 287.0 L739.2 288.5 L739.5 290.0 L739.7 291.5 L740.0 293.0 L740.3 294.6 L740.5 296.1 L740.8 297.7 L741.1 299.3 L741.4 300.8 L741.6 302.4 L741.9 304.0 L742.2 305.6 L742.4 307.2 L742.7 308.8 L743.0 310.4 L743.2 312.0 L743.5 313.6 L743.8 315.2 L744.1 316.8 L744.3 318.4 L744.6 320.0 L744.9 321.5 L745.1 323.1 L745.4 324.6 L745.7 326.1 L745.9 327.6 L746.2 329.1 L746.5 330.6 L746.8 332.1 L747.0 333.5 L747.3 335.0 L747.6 336.4 L747.8 337.8 L748.1 339.2 L748.4 340.6 L748.6 342.0 L748.9 343.3 L749.2 344.7 L749.5 346.0 L749.7 347.4 L750.0 348.7 L750.3 350.0 L750.5 351.3 L750.8 352.5 L751.1 353.8 L751.3 355.0 L751.6 356.3 L751.9 357.5 L752.2 358.7 L752.4 359.9 L752.7 361.1 L753.0 362.2 L753.2 363.4 L753.5 364.5 L753.8 365.6 L754.0 366.8 L754.3 367.8 L754.6 368.9 L754.9 370.0 L755.1 371.0 L755.4 372.1 L755.7 373.1 L755.9 374.1 L756.2 375.1 L756.5 376.1 L756.7 377.1 L757.0 378.0 L757.3 378.9 L757.6 379.8 L757.8 380.7 L758.1 381.5 L758.4 382.4 L758.6 383.2 L758.9 383.9 L759.2 384.7 L759.4 385.4 L759.7 386.1 L760.0 386.7 L760.3 387.3 L760.5 387.9 L760.8 388.5 L761.1 389.0 L761.3 389.4 L761.6 389.9 L761.9 390.3 L762.1 390.6 L762.4 390.9 L762.7 391.2 L763.0 391.4 L763.2 391.6 L763.5 391.7 L763.8 391.8 L764.0 391.8 L764.3 391.8 L764.6 391.7 L764.9 391.5 L765.1 391.4 L765.4 391.1 L765.7 390.8 L765.9 390.4 L766.2 390.0 L766.5 389.6 L766.7 389.0 L767.0 388.4 L767.3 387.8 L767.6 387.1 L767.8 386.3 L768.1 385.5 L768.4 384.6 L768.6 383.7 L768.9 382.8 L769.2 381.8 L769.4 380.7 L769.7 379.6 L770.0 378.5 L770.3 377.3 L770.5 376.1 L770.8 374.9 L771.1 373.7 L771.3 372.4 L771.6 371.0 L771.9 369.7 L772.1 368.3 L772.4 366.9 L772.7 365.5 L773.0 364.1 L773.2 362.6 L773.5 361.2 L773.8 359.7 L774.0 358.2 L774.3 356.7 L774.6 355.2 L774.8 353.6 L775.1 352.1 L775.4 350.6 L775.7 349.0 L775.9 347.5 L776.2 346.0 L776.5 344.4 L776.7 342.9 L777.0 341.4 L777.3 339.9 L777.5 338.4 L777.8 336.9 L778.1 335.4 L778.4 334.0 L778.6 332.5 L778.9 331.1 L779.2 329.7 L779.4 328.2 L779.7 326.8 L780.0 325.5 L780.2 324.1 L780.5 322.8 L780.8 321.4 L781.1 320.1 L781.3 318.9 L781.6 317.6 L781.9 316.4 L782.1 315.1 L782.4 314.0 L782.7 312.8 L782.9 311.6 L783.2 310.5 L783.5 309.4 L783.8 308.4 L784.0 307.3 L784.3 306.3 L784.6 305.3 L784.8 304.4 L785.1 303.5 L785.4 302.6 L785.7 301.7 L785.9 300.9 L786.2 300.1 L786.5 299.4 L786.7 298.7 L787.0 298.0 L787.3 297.3 L787.5 296.7 L787.8 296.2 L788.1 295.6 L788.4 295.2 L788.6 294.7 L788.9 294.3 L789.2 293.9 L789.4 293.6 L789.7 293.3 L790.0 293.1 L790.2 292.9 L790.5 292.7 L790.8 292.6 L791.1 292.5 L791.3 292.5 L791.6 292.4 L791.9 292.5 L792.1 292.6 L792.4 292.7 L792.7 292.9 L792.9 293.1 L793.2 293.3 L793.5 293.6 L793.8 293.9 L794.0 294.3 L794.3 294.7 L794.6 295.2 L794.8 295.7 L795.1 296.2 L795.4 296.8 L795.6 297.4 L795.9 298.1 L796.2 298.8 L796.5 299.6 L796.7 300.4 L797.0 301.2 L797.3 302.1 L797.5 303.0 L797.8 304.0 L798.1 305.0 L798.3 306.1 L798.6 307.2 L798.9 308.4 L799.2 309.6 L799.4 310.8 L799.7 312.1 L800.0 313.4 L800.2 314.7 L800.5 316.1 L800.8 317.6 L801.0 319.0 L801.3 320.5 L801.6 322.0 L801.9 323.6 L802.1 325.2 L802.4 326.8 L802.7 328.4 L802.9 330.1 L803.2 331.7 L803.5 333.4 L803.7 335.1 L804.0 336.9 L804.3 338.6 L804.6 340.4 L804.8 342.2 L805.1 344.0 L805.4 345.8 L805.6 347.6 L805.9 349.4 L806.2 351.2 L806.5 353.1 L806.7 354.9 L807.0 356.8 L807.3 358.6 L807.5 360.4 L807.8 362.3 L808.1 364.1 L808.3 365.9 L808.6 367.8 L808.9 369.6 L809.2 371.4 L809.4 373.2 L809.7 375.0 L810.0 376.8 L810.2 378.5 L810.5 380.3 L810.8 382.0 L811.0 383.7 L811.3 385.4 L811.6 387.1 L811.9 388.8 L812.1 390.4 L812.4 392.0 L812.7 393.6 L812.9 395.2 L813.2 396.7 L813.5 398.2 L813.7 399.7 L814.0 401.1 L814.3 402.6 L814.6 404.0 L814.8 405.3 L815.1 406.6 L815.4 407.9 L815.6 409.1 L815.9 410.3 L816.2 411.5 L816.4 412.6 L816.7 413.7 L817.0 414.8 L817.3 415.8 L817.5 416.7 L817.8 417.6 L818.1 418.5 L818.3 419.3 L818.6 420.0 L818.9 420.7 L819.1 421.4 L819.4 422.0 L819.7 422.5 L820.0 423.0 L820.2 423.5" fill="none" stroke="#000" stroke-width="1.95" stroke-opacity="1.0" stroke-linejoin="round" stroke-linecap="butt"/>
<path d="M511.9 190.7 L512.1 191.0 L512.3 191.3 L512.5 191.6 L512.7 191.9 L512.8 192.2 L513.0 192.5 L513.2 192.8 L513.4 193.1 L513.6 193.4 L513.8 193.7 L514.0 194.0 L514.2 194.3 L514.4 194.7 L514.6 195.0 L514.8 195.3 L515.0 195.7 L515.2 196.0 L515.4 196.3 L515.5 196.7 L515.7 197.0 L515.9 197.4 L516.1 197.7 L516.3 198.1 L516.5 198.4 L516.7 198.8 L516.9 199.1 L517.1 199.5 L517.3 199.9 L517.5 200.2 L517.7 200.6 L517.9 201.0 L518.0 201.4 L518.2 201.7 L518.4 202.1 L518.6 202.5 L518.8 202.9 L519.0 203.3 L519.2 203.7 L519.4 204.1 L519.6 204.5 L519.8 204.9 L520.0 205.2 L520.2 205.6 L520.4 206.1 L520.6 206.5 L520.7 206.9 L520.9 207.3 L521.1 207.7 L521.3 208.1 L521.5 208.5 L521.7 208.9 L521.9 209.3 L522.1 209.7 L522.3 210.2 L522.5 210.6 L522.7 211.0 L522.9 211.4 L523.1 211.9 L523.3 212.3 L523.4 212.7 L523.6 213.1 L523.8 213.6 L524.0 214.0 L524.2 214.4 L524.4 214.9 L524.6 215.3 L524.8 215.7 L525.0 216.2 L525.2 216.6 L525.4 217.0 L525.6 217.5 L525.8 217.9 L526.0 218.4 L526.1 218.8 L526.3 219.2 L526.5 219.7 L526.7 220.1 L526.9 220.6 L527.1 221.0 L527.3 221.5 L527.5 221.9 L527.7 222.4 L527.9 222.8 L528.1 223.2 L528.3 223.7 L528.5 224.1 L528.7 224.6 L528.8 225.0 L529.0 225.5 L529.2 225.9 L529.4 226.4 L529.6 226.8 L529.8 227.3 L530.0 227.7 L530.2 228.2 L530.4 228.6 L530.6 229.1 L530.8 229.5 L531.0 230.0 L531.2 230.4 L531.4 230.9 L531.5 231.3 L531.7 231.8 L531.9 232.2 L532.1 232.7 L532.3 233.1 L532.5 233.5 L532.7 234.0 L532.9 234.4 L533.1 234.9 L533.3 235.3 L533.5 235.8 L533.7 236.2 L533.9 236.6 L534.1 237.1 L534.2 237.5 L534.4 238.0 L534.6 238.4 L534.8 238.8 L535.0 239.3 L535.2 239.7 L535.4 240.1 L535.6 240.6 L535.8 241.0 L536.0 241.4 L536.2 241.9 L536.4 242.3 L536.6 242.7 L536.7 243.1 L536.9 243.6 L537.1 244.0 L537.3 244.4 L537.5 244.8 L537.7 245.3 L537.9 245.7 L538.1 246.1 L538.3 246.5 L538.5 246.9 L538.7 247.3 L538.9 247.7 L539.1 248.1 L539.3 248.5 L539.4 249.0 L539.6 249.4 L539.8 249.8 L540.0 250.2 L540.2 250.6 L540.4 251.0 L540.6 251.4 L540.8 251.7 L541.0 252.1 L541.2 252.5 L541.4 252.9 L541.6 253.3 L541.8 253.7 L542.0 254.1 L542.1 254.5 L542.3 254.8 L542.5 255.2 L542.7 255.6 L542.9 256.0 L543.1 256.4 L543.3 256.7 L543.5 257.1 L543.7 257.5 L543.9 257.9 L544.1 258.2 L544.3 258.6 L544.5 259.0 L544.7 259.3 L544.8 259.7 L545.0 260.1 L545.2 260.4 L545.4 260.8 L545.6 261.1 L545.8 261.5 L546.0 261.8 L546.2 262.2 L546.4 262.5 L546.6 262.9 L546.8 263.2 L547.0 263.6 L547.2 263.9 L547.4 264.3 L547.5 264.6 L547.7 265.0 L547.9 265.3 L548.1 265.7 L548.3 266.0 L548.5 266.3 L548.7 266.7 L548.9 267.0 L549.1 267.3 L549.3 267.7 L549.5 268.0 L549.7 268.3 L549.9 268.6 L550.1 269.0 L550.2 269.3 L550.4 269.6 L550.6 269.9 L550.8 270.2 L551.0 270.6 L551.2 270.9 L551.4 271.2 L551.6 271.5 L551.8 271.8 L552.0 272.1 L552.2 272.4 L552.4 272.8 L552.6 273.1 L552.7 273.4 L552.9 273.7 L553.1 274.0 L553.3 274.3 L553.5 274.6 L553.7 274.9 L553.9 275.2 L554.1 275.5 L554.3 275.8 L554.5 276.0 L554.7 276.3 L554.9 276.6 L555.1 276.9 L555.3 277.2 L555.4 277.5 L555.6 277.8 L555.8 278.1 L556.0 278.3 L556.2 278.6 L556.4 278.9 L556.6 279.2 L556.8 279.4 L557.0 279.7 L557.2 280.0 L557.4 280.3 L557.6 280.5 L557.8 280.8 L558.0 281.1 L558.1 281.3 L558.3 281.6 L558.5 281.9 L558.7 282.1 L558.9 282.4 L559.1 282.6 L559.3 282.9 L559.5 283.2 L559.7 283.4 L559.9 283.7 L560.1 283.9 L560.3 284.2 L560.5 284.4 L560.7 284.7 L560.8 284.9 L561.0 285.2 L561.2 285.4 L561.4 285.7 L561.6 285.9 L561.8 286.1 L562.0 286.4 L562.2 286.6 L562.4 286.8 L562.6 287.1 L562.8 287.3 L563.0 287.5 L563.2 287.8 L563.4 288.0 L563.5 288.2 L563.7 288.5 L563.9 288.7 L564.1 288.9 L564.3 289.1 L564.5 289.4 L564.7 289.6 L564.9 289.8 L565.1 290.0 L565.3 290.2 L565.5 290.4 L565.7 290.7 L565.9 290.9 L566.1 291.1 L566.2 291.3 L566.4 291.5 L566.6 291.7 L566.8 291.9 L567.0 292.1 L567.2 292.3 L567.4 292.5 L567.6 292.7 L567.8 292.9 L568.0 293.1 L568.2 293.3 L568.4 293.5 L568.6 293.7 L568.7 293.9 L568.9 294.1 L569.1 294.3 L569.3 294.4 L569.5 294.6 L569.7 294.8 L569.9 295.0 L570.1 295.2 L570.3 295.3 L570.5 295.5 L570.7 295.7 L570.9 295.9 L571.1 296.0 L571.3 296.2 L571.4 296.4 L571.6 296.6 L571.8 296.7 L572.0 296.9 L572.2 297.0 L572.4 297.2 L572.6 297.4 L572.8 297.5 L573.0 297.7 L573.2 297.8 L573.4 298.0 L573.6 298.1 L573.8 298.3 L574.0 298.4 L574.1 298.6 L574.3 298.7 L574.5 298.9 L574.7 299.0 L574.9 299.2 L575.1 299.3 L575.3 299.4 L575.5 299.6 L575.7 299.7 L575.9 299.9 L576.1 300.0 L576.3 300.1 L576.5 300.2 L576.7 300.4 L576.8 300.5 L577.0 300.6 L577.2 300.7 L577.4 300.9 L577.6 301.0 L577.8 301.1 L578.0 301.2 L578.2 301.3 L578.4 301.4 L578.6 301.5 L578.8 301.7 L579.0 301.8 L579.2 301.9 L579.4 302.0 L579.5 302.1 L579.7 302.2 L579.9 302.3 L580.1 302.4 L580.3 302.5 L580.5 302.6 L580.7 302.7 L580.9 302.7 L581.1 302.8 L581.3 302.9 L581.5 303.0 L581.7 303.1 L581.9 303.2 L582.1 303.2 L582.2 303.3 L582.4 303.4 L582.6 303.5 L582.8 303.5 L583.0 303.6 L583.2 303.7 L583.4 303.7 L583.6 303.8 L583.8 303.9 L584.0 303.9 L584.2 304.0 L584.4 304.1 L584.6 304.1 L584.7 304.2 L584.9 304.2 L585.1 304.3 L585.3 304.3 L585.5 304.4 L585.7 304.4 L585.9 304.5 L586.1 304.5 L586.3 304.5 L586.5 304.6 L586.7 304.6 L586.9 304.6 L587.1 304.7 L587.3 304.7 L587.4 304.7 L587.6 304.8 L587.8 304.8 L588.0 304.8 L588.2 304.8 L588.4 304.9 L588.6 304.9 L588.8 304.9" fill="none" stroke="#000" stroke-width="1.95" stroke-opacity="1.0" stroke-linejoin="round" stroke-linecap="butt"/>
<path d="M595.2 191.9 L595.4 192.0 L595.6 192.1 L595.9 192.2 L596.1 192.3 L596.3 192.4 L596.5 192.6 L596.8 192.7 L597.0 192.8 L597.2 192.9 L597.4 193.0 L597.7 193.2 L597.9 193.3 L598.1 193.4 L598.3 193.5 L598.6 193.6 L598.8 193.8 L599.0 193.9 L599.2 194.0 L599.5 194.1 L599.7 194.3 L599.9 194.4 L600.1 194.5 L600.4 194.6 L600.6 194.8 L600.8 194.9 L601.1 195.0 L601.3 195.1 L601.5 195.3 L601.7 195.4 L602.0 195.5 L602.2 195.6 L602.4 195.8 L602.6 195.9 L602.9 196.0 L603.1 196.2 L603.3 196.3 L603.5 196.4 L603.8 196.6 L604.0 196.7 L604.2 196.8 L604.4 196.9 L604.7 197.1 L604.9 197.2 L605.1 197.3 L605.3 197.5 L605.6 197.6 L605.8 197.8 L606.0 197.9 L606.2 198.0 L606.5 198.2 L606.7 198.3 L606.9 198.4 L607.1 198.6 L607.4 198.7 L607.6 198.8 L607.8 199.0 L608.0 199.1 L608.3 199.3 L608.5 199.4 L608.7 199.5 L608.9 199.7 L609.2 199.8 L609.4 200.0 L609.6 200.1 L609.8 200.3 L610.1 200.4 L610.3 200.5 L610.5 200.7 L610.7 200.8 L611.0 201.0 L611.2 201.1 L611.4 201.3 L611.6 201.4 L611.9 201.6 L612.1 201.7 L612.3 201.8 L612.6 202.0 L612.8 202.1 L613.0 202.3 L613.2 202.4 L613.5 202.6 L613.7 202.7 L613.9 202.9 L614.1 203.0 L614.4 203.2 L614.6 203.3 L614.8 203.5 L615.0 203.6 L615.3 203.8 L615.5 203.9 L615.7 204.1 L615.9 204.3 L616.2 204.4 L616.4 204.6 L616.6 204.7 L616.8 204.9 L617.1 205.0 L617.3 205.2 L617.5 205.3 L617.7 205.5 L618.0 205.7 L618.2 205.8 L618.4 206.0 L618.6 206.1 L618.9 206.3 L619.1 206.4 L619.3 206.6 L619.5 206.8 L619.8 206.9 L620.0 207.1 L620.2 207.3 L620.4 207.4 L620.7 207.6 L620.9 207.7 L621.1 207.9 L621.3 208.1 L621.6 208.2 L621.8 208.4 L622.0 208.6 L622.2 208.7 L622.5 208.9 L622.7 209.1 L622.9 209.2 L623.2 209.4 L623.4 209.6 L623.6 209.7 L623.8 209.9 L624.1 210.1 L624.3 210.2 L624.5 210.4 L624.7 210.6 L625.0 210.7 L625.2 210.9 L625.4 211.1 L625.6 211.2 L625.9 211.4 L626.1 211.6 L626.3 211.8 L626.5 211.9 L626.8 212.1 L627.0 212.3 L627.2 212.5 L627.4 212.6 L627.7 212.8 L627.9 213.0 L628.1 213.2 L628.3 213.3 L628.6 213.5 L628.8 213.7 L629.0 213.9 L629.2 214.0 L629.5 214.2 L629.7 214.4 L629.9 214.6 L630.1 214.8 L630.4 214.9 L630.6 215.1 L630.8 215.3 L631.0 215.5 L631.3 215.7 L631.5 215.8 L631.7 216.0 L631.9 216.2 L632.2 216.4 L632.4 216.6 L632.6 216.7 L632.8 216.9 L633.1 217.1 L633.3 217.3 L633.5 217.5 L633.8 217.7 L634.0 217.9 L634.2 218.0 L634.4 218.2 L634.7 218.4 L634.9 218.6 L635.1 218.8 L635.3 219.0 L635.6 219.2 L635.8 219.4 L636.0 219.6 L636.2 219.7 L636.5 219.9 L636.7 220.1 L636.9 220.3 L637.1 220.5 L637.4 220.7 L637.6 220.9 L637.8 221.1 L638.0 221.3 L638.3 221.5 L638.5 221.7 L638.7 221.9 L638.9 222.1 L639.2 222.2 L639.4 222.4 L639.6 222.6 L639.8 222.8 L640.1 223.0 L640.3 223.2 L640.5 223.4 L640.7 223.6 L641.0 223.8 L641.2 224.0 L641.4 224.2 L641.6 224.4 L641.9 224.6 L642.1 224.8 L642.3 225.0 L642.5 225.2 L642.8 225.4 L643.0 225.6 L643.2 225.8 L643.4 226.0 L643.7 226.2 L643.9 226.4 L644.1 226.6 L644.4 226.8 L644.6 227.1 L644.8 227.3 L645.0 227.5 L645.3 227.7 L645.5 227.9 L645.7 228.1 L645.9 228.3 L646.2 228.5 L646.4 228.7 L646.6 228.9 L646.8 229.1 L647.1 229.3 L647.3 229.5 L647.5 229.7 L647.7 230.0 L648.0 230.2 L648.2 230.4 L648.4 230.6 L648.6 230.8 L648.9 231.0 L649.1 231.2 L649.3 231.4 L649.5 231.6 L649.8 231.9 L650.0 232.1 L650.2 232.3 L650.4 232.5 L650.7 232.7 L650.9 232.9 L651.1 233.1 L651.3 233.3 L651.6 233.6 L651.8 233.8 L652.0 234.0 L652.2 234.2 L652.5 234.4 L652.7 234.6 L652.9 234.9 L653.1 235.1 L653.4 235.3 L653.6 235.5 L653.8 235.7 L654.0 235.9 L654.3 236.2 L654.5 236.4 L654.7 236.6 L654.9 236.8 L655.2 237.0 L655.4 237.3 L655.6 237.5 L655.9 237.7 L656.1 237.9 L656.3 238.1 L656.5 238.4 L656.8 238.6 L657.0 238.8 L657.2 239.0 L657.4 239.3 L657.7 239.5 L657.9 239.7 L658.1 239.9 L658.3 240.2 L658.6 240.4 L658.8 240.6 L659.0 240.8 L659.2 241.0 L659.5 241.3 L659.7 241.5 L659.9 241.7 L660.1 242.0 L660.4 242.2 L660.6 242.4 L660.8 242.6 L661.0 242.9 L661.3 243.1 L661.5 243.3 L661.7 243.5 L661.9 243.8 L662.2 244.0 L662.4 244.2 L662.6 244.5 L662.8 244.7 L663.1 244.9 L663.3 245.1 L663.5 245.4 L663.7 245.6 L664.0 245.8 L664.2 246.1 L664.4 246.3 L664.6 246.5 L664.9 246.8 L665.1 247.0 L665.3 247.2 L665.5 247.4 L665.8 247.7 L666.0 247.9 L666.2 248.1 L666.5 248.4 L666.7 248.6 L666.9 248.8 L667.1 249.1 L667.4 249.3 L667.6 249.5 L667.8 249.8 L668.0 250.0 L668.3 250.2 L668.5 250.5 L668.7 250.7 L668.9 250.9 L669.2 251.2 L669.4 251.4 L669.6 251.6 L669.8 251.9 L670.1 252.1 L670.3 252.4 L670.5 252.6 L670.7 252.8 L671.0 253.1 L671.2 253.3 L671.4 253.5 L671.6 253.8 L671.9 254.0 L672.1 254.2 L672.3 254.5 L672.5 254.7 L672.8 255.0 L673.0 255.2 L673.2 255.4 L673.4 255.7 L673.7 255.9 L673.9 256.1 L674.1 256.4 L674.3 256.6 L674.6 256.9 L674.8 257.1 L675.0 257.3 L675.2 257.6 L675.5 257.8 L675.7 258.1 L675.9 258.3 L676.1 258.5 L676.4 258.8 L676.6 259.0 L676.8 259.3 L677.1 259.5 L677.3 259.7 L677.5 260.0 L677.7 260.2 L678.0 260.5 L678.2 260.7 L678.4 260.9 L678.6 261.2 L678.9 261.4 L679.1 261.7 L679.3 261.9 L679.5 262.2 L679.8 262.4 L680.0 262.6 L680.2 262.9 L680.4 263.1 L680.7 263.4 L680.9 263.6 L681.1 263.9 L681.3 264.1 L681.6 264.3 L681.8 264.6 L682.0 264.8 L682.2 265.1 L682.5 265.3 L682.7 265.6 L682.9 265.8 L683.1 266.0 L683.4 266.3 L683.6 266.5 L683.8 266.8 L684.0 267.0 L684.3 267.3 L684.5 267.5 L684.7 267.7 L684.9 268.0 L685.2 268.2" fill="none" stroke="#000" stroke-width="1.95" stroke-opacity="1.0" stroke-linejoin="round" stroke-linecap="butt"/>
<path d="M240.2 122.6 L240.3 122.8 L240.4 123.0 L240.4 123.3 L240.5 123.5 L240.6 123.8 L240.7 124.0 L240.8 124.3 L240.8 124.6 L240.9 124.9 L241.0 125.2 L241.1 125.5 L241.2 125.8 L241.3 126.1 L241.3 126.5 L241.4 126.8 L241.5 127.1 L241.6 127.5 L241.7 127.9 L241.7 128.2 L241.8 128.6 L241.9 129.0 L242.0 129.4 L242.1 129.8 L242.2 130.2 L242.2 130.6 L242.3 131.1 L242.4 131.5 L242.5 131.9 L242.6 132.4 L242.6 132.8 L242.7 133.3 L242.8 133.7 L242.9 134.2 L243.0 134.7 L243.1 135.2 L243.1 135.6 L243.2 136.1 L243.3 136.6 L243.4 137.1 L243.5 137.6 L243.5 138.1 L243.6 138.6 L243.7 139.2 L243.8 139.7 L243.9 140.2 L244.0 140.7 L244.0 141.3 L244.1 141.8 L244.2 142.3 L244.3 142.9 L244.4 143.4 L244.4 144.0 L244.5 144.5 L244.6 145.1 L244.7 145.6 L244.8 146.2 L244.9 146.7 L244.9 147.3 L245.0 147.8 L245.1 148.4 L245.2 149.0 L245.3 149.5 L245.3 150.1 L245.4 150.7 L245.5 151.3 L245.6 151.8 L245.7 152.4 L245.8 153.0 L245.8 153.5 L245.9 154.1 L246.0 154.7 L246.1 155.3 L246.2 155.8 L246.2 156.4 L246.3 157.0 L246.4 157.6 L246.5 158.1 L246.6 158.7 L246.7 159.3 L246.7 159.8 L246.8 160.4 L246.9 161.0 L247.0 161.5 L247.1 162.1 L247.1 162.7 L247.2 163.2 L247.3 163.8 L247.4 164.3 L247.5 164.9 L247.6 165.4 L247.6 166.0 L247.7 166.5 L247.8 167.1 L247.9 167.6 L248.0 168.1 L248.1 168.7 L248.1 169.2 L248.2 169.7 L248.3 170.2 L248.4 170.7 L248.5 171.3 L248.5 171.8 L248.6 172.3 L248.7 172.8 L248.8 173.3 L248.9 173.8 L249.0 174.2 L249.0 174.7 L249.1 175.2 L249.2 175.7 L249.3 176.1 L249.4 176.6 L249.4 177.1 L249.5 177.5 L249.6 178.0 L249.7 178.4 L249.8 178.9 L249.9 179.3 L249.9 179.8 L250.0 180.2 L250.1 180.6 L250.2 181.0 L250.3 181.5 L250.3 181.9 L250.4 182.3 L250.5 182.7 L250.6 183.1 L250.7 183.5 L250.8 183.9 L250.8 184.3 L250.9 184.7 L251.0 185.1 L251.1 185.5 L251.2 185.9 L251.2 186.2 L251.3 186.6 L251.4 187.0 L251.5 187.3 L251.6 187.7 L251.7 188.1 L251.7 188.4 L251.8 188.8 L251.9 189.1 L252.0 189.4 L252.1 189.8 L252.1 190.1 L252.2 190.4 L252.3 190.8 L252.4 191.1 L252.5 191.4 L252.6 191.7 L252.6 192.0 L252.7 192.4 L252.8 192.7 L252.9 193.0 L253.0 193.3 L253.0 193.5 L253.1 193.8 L253.2 194.1 L253.3 194.4 L253.4 194.7 L253.5 195.0 L253.5 195.2 L253.6 195.5 L253.7 195.8 L253.8 196.0 L253.9 196.3 L253.9 196.5 L254.0 196.8 L254.1 197.0 L254.2 197.3 L254.3 197.5 L254.4 197.8 L254.4 198.0 L254.5 198.2 L254.6 198.5 L254.7 198.7 L254.8 198.9 L254.8 199.1 L254.9 199.3 L255.0 199.5 L255.1 199.8 L255.2 200.0 L255.3 200.2 L255.3 200.3 L255.4 200.5 L255.5 200.7 L255.6 200.9 L255.7 201.1 L255.7 201.3 L255.8 201.5 L255.9 201.6 L256.0 201.8 L256.1 202.0 L256.2 202.1 L256.2 202.3 L256.3 202.5 L256.4 202.6 L256.5 202.8 L256.6 202.9 L256.7 203.0 L256.7 203.2 L256.8 203.3 L256.9 203.5 L257.0 203.6 L257.1 203.7 L257.1 203.8 L257.2 204.0 L257.3 204.1 L257.4 204.2 L257.5 204.3 L257.6 204.4 L257.6 204.5 L257.7 204.6 L257.8 204.7 L257.9 204.8 L258.0 204.9 L258.0 205.0 L258.1 205.1 L258.2 205.2 L258.3 205.2 L258.4 205.3 L258.5 205.4 L258.5 205.4 L258.6 205.5 L258.7 205.6 L258.8 205.6 L258.9 205.7 L258.9 205.7 L259.0 205.7 L259.1 205.8 L259.2 205.8 L259.3 205.9 L259.4 205.9 L259.4 205.9 L259.5 205.9 L259.6 205.9 L259.7 206.0 L259.8 206.0 L259.8 206.0 L259.9 206.0 L260.0 206.0 L260.1 206.0 L260.2 205.9 L260.3 205.9 L260.3 205.9 L260.4 205.9 L260.5 205.9 L260.6 205.8 L260.7 205.8 L260.7 205.8 L260.8 205.7 L260.9 205.7 L261.0 205.6 L261.1 205.6 L261.2 205.5 L261.2 205.4 L261.3 205.4 L261.4 205.3 L261.5 205.2 L261.6 205.1 L261.6 205.0 L261.7 204.9 L261.8 204.8 L261.9 204.7 L262.0 204.6 L262.1 204.5 L262.1 204.4 L262.2 204.3 L262.3 204.2 L262.4 204.1 L262.5 203.9 L262.5 203.8 L262.6 203.7 L262.7 203.5 L262.8 203.4 L262.9 203.2 L263.0 203.0 L263.0 202.9 L263.1 202.7 L263.2 202.5 L263.3 202.4 L263.4 202.2 L263.4 202.0 L263.5 201.8 L263.6 201.6 L263.7 201.4 L263.8 201.2 L263.9 201.0 L263.9 200.8 L264.0 200.6 L264.1 200.3 L264.2 200.1 L264.3 199.9 L264.4 199.6 L264.4 199.4 L264.5 199.1 L264.6 198.9 L264.7 198.6 L264.8 198.3 L264.8 198.1 L264.9 197.8 L265.0 197.5 L265.1 197.2 L265.2 196.9 L265.3 196.7 L265.3 196.4 L265.4 196.1 L265.5 195.7 L265.6 195.4 L265.7 195.1 L265.7 194.8 L265.8 194.5 L265.9 194.2 L266.0 193.8 L266.1 193.5 L266.2 193.2 L266.2 192.8 L266.3 192.5 L266.4 192.1 L266.5 191.8 L266.6 191.4 L266.6 191.1 L266.7 190.7 L266.8 190.3 L266.9 190.0 L267.0 189.6 L267.1 189.2 L267.1 188.9 L267.2 188.5 L267.3 188.1 L267.4 187.7 L267.5 187.4 L267.5 187.0 L267.6 186.6 L267.7 186.2 L267.8 185.8 L267.9 185.4 L268.0 185.0 L268.0 184.6 L268.1 184.2 L268.2 183.9 L268.3 183.5 L268.4 183.1 L268.4 182.7 L268.5 182.3 L268.6 181.9 L268.7 181.5 L268.8 181.1 L268.9 180.7 L268.9 180.3 L269.0 179.9 L269.1 179.5 L269.2 179.1 L269.3 178.7 L269.3 178.3 L269.4 177.9 L269.5 177.4 L269.6 177.0 L269.7 176.6 L269.8 176.2 L269.8 175.8 L269.9 175.4 L270.0 175.1 L270.1 174.7 L270.2 174.3 L270.2 173.9 L270.3 173.5 L270.4 173.1 L270.5 172.7 L270.6 172.3 L270.7 171.9 L270.7 171.5 L270.8 171.1 L270.9 170.8 L271.0 170.4 L271.1 170.0 L271.1 169.6 L271.2 169.2 L271.3 168.9 L271.4 168.5 L271.5 168.1 L271.6 167.8 L271.6 167.4 L271.7 167.0 L271.8 166.7 L271.9 166.3 L272.0 166.0 L272.1 165.6 L272.1 165.3 L272.2 165.0 L272.3 164.6 L272.4 164.3 L272.5 164.0 L272.5 163.6 L272.6 163.3 L272.7 163.0 L272.8 162.7 L272.9 162.4" fill="none" stroke="#000" stroke-width="1.95" stroke-opacity="1.0" stroke-linejoin="round" stroke-linecap="butt"/>
<path d="M1717.7 355.1 L1719.1 342.7 L1721.3 331.3 L1722.5 320.0 L1723.0 306.6 L1724.2 288.5 L1725.9 286.2 L1727.9 278.9 L1729.8 295.3 L1731.0 308.9 L1732.7 289.6 L1734.3 266.4 L1736.0 291.9 L1738.3 284.0 L1740.0 277.7 L1741.7 280.6 L1743.7 268.1 L1745.1 284.0 L1746.2 306.6 L1747.6 319.1 L1749.1 297.6 L1751.3 275.5 L1752.5 289.6 L1753.6 312.3 L1754.7 329.3 L1755.9 339.3 L1757.0 354.0 L1758.1 376.6 L1758.7 391.3 L1759.8 373.2 L1761.0 399.3 L1761.0 403.6 L1762.7 410.4 L1764.6 420.0 L1766.1 401.3 L1767.8 376.6 L1768.9 412.7 L1770.0 433.0 L1771.7 412.7 L1773.4 395.7 L1775.1 385.7 L1776.3 424.0 L1777.4 446.6 L1778.5 456.8 L1780.2 424.0 L1781.3 401.3 L1782.5 391.4 L1783.6 424.0 L1784.7 443.2 L1786.4 447.8 L1787.7 463.2 L1790.0 454.2 L1792.8 460.4 L1794.5 467.2 L1796.9 444.5 L1799.1 464.9 L1800.3 466.0 L1801.7 485.4 L1803.0 464.3 L1805.4 507.4 L1808.1 462.7 L1809.3 439.9 L1809.7 424.0 L1810.8 401.3 L1811.9 390.0 L1814.0 379.5 L1815.9 412.7 L1817.4 423.4 L1819.0 414.0 L1820.7 391.3 L1821.8 380.0 L1821.2 371.2 L1822.9 373.4 L1824.6 379.1 L1826.3 366.6 L1828.0 355.3 L1829.7 351.9 L1831.4 332.7 L1833.1 315.7 L1834.8 310.0 L1835.4 291.6 L1836.7 267.8 L1838.2 291.6 L1839.3 313.1 L1841.0 303.0 L1842.7 290.5 L1844.2 296.7 L1845.6 280.3 L1846.7 267.8 L1848.1 280.3 L1850.1 263.9 L1851.5 280.3 L1852.6 284.8 L1854.1 269.0 L1855.2 246.3 L1856.7 238.4 L1858.6 241.8 L1860.3 248.6 L1861.4 263.3 L1862.6 274.6 L1863.9 286.5 L1865.4 269.0 L1866.9 257.1 L1868.2 269.0 L1869.6 279.2 L1871.1 269.0 L1872.2 262.7 L1873.9 274.6 L1875.6 286.0 L1877.3 303.0 L1879.0 314.3 L1878.4 327.0 L1879.6 344.0 L1880.7 355.9 L1881.8 338.3 L1883.0 321.3 L1884.1 314.5 L1885.2 327.0 L1886.9 344.0 L1888.0 355.3 L1889.2 372.3 L1889.7 388.1 L1890.7 401.5 L1892.0 387.9 L1893.7 393.6 L1895.4 394.7 L1897.1 389.1 L1898.8 383.4 L1900.5 385.7 L1901.6 402.7 L1903.3 419.6 L1905.0 421.9 L1906.7 425.9 L1908.4 419.6 L1909.6 408.3 L1911.3 397.0 L1913.0 394.7 L1914.7 383.4 L1916.4 402.7 L1917.8 412.3 L1919.2 397.0 L1920.9 385.7 L1922.6 372.9 L1924.3 391.3 L1925.4 397.0 L1926.6 391.3 L1927.7 408.3 L1928.8 429.8 L1930.5 425.3 L1932.3 414.3 L1933.4 391.6 L1935.1 374.6 L1936.2 367.8 L1937.9 374.6 L1939.1 382.6 L1940.2 393.3 L1941.3 369.0 L1942.5 346.3 L1943.3 335.0 L1944.2 316.6 L1945.3 294.0 L1946.4 280.4 L1947.6 275.3 L1948.7 282.7 L1949.8 294.0 L1951.0 282.7 L1952.1 271.3 L1953.2 260.0 L1953.8 250.7 L1954.9 239.4 L1956.1 241.6 L1957.2 240.5 L1958.3 224.6 L1959.5 207.7 L1960.6 195.2" fill="none" stroke="#ff0000" stroke-width="1.9" stroke-opacity="0.7" stroke-linejoin="round" stroke-linecap="butt"/>
<path d="M1495.4 283.4 L1496.3 325.3 L1497.7 354.2 L1499.2 342.3 L1500.9 314.0 L1502.0 315.1 L1503.7 312.8 L1504.8 298.1 L1506.3 297.0 L1507.7 323.0 L1509.3 302.7 L1510.1 303.8 L1511.6 334.4 L1513.9 320.8 L1516.1 348.0 L1517.8 298.1 L1519.9 344.0 L1521.2 318.5 L1522.9 314.0 L1524.6 297.0 L1526.3 292.5 L1527.8 279.3 L1529.7 319.1 L1531.4 279.3 L1533.1 268.6 L1534.8 279.3 L1537.3 325.9 L1539.1 303.8 L1540.5 314.0 L1542.4 334.9 L1544.5 282.3 L1546.4 265.2 L1547.9 279.3 L1549.0 308.9 L1550.1 279.3 L1551.5 249.0 L1553.0 279.3 L1554.1 302.7 L1555.4 329.3 L1558.0 306.0 L1559.2 318.5 L1560.3 306.0 L1562.0 328.7 L1563.7 285.7 L1564.6 273.7 L1566.3 306.6 L1568.6 271.4 L1570.5 280.0 L1572.2 299.3 L1574.5 256.7 L1576.2 206.3 L1578.1 245.3 L1579.6 279.3 L1580.5 311.7 L1582.4 279.3 L1583.5 272.5 L1585.2 287.4 L1586.9 255.0 L1588.3 265.7 L1589.8 266.9 L1591.5 304.9 L1593.2 263.5 L1595.8 245.9 L1597.3 256.7 L1599.0 258.9 L1600.7 272.5 L1602.7 301.6 L1604.6 279.0 L1605.8 309.0 L1607.2 327.7 L1609.2 315.8 L1612.0 311.2 L1613.1 313.5 L1614.8 297.1 L1616.5 309.0 L1617.7 318.6 L1618.8 310.1 L1619.9 320.3 L1622.2 322.6 L1624.4 322.6 L1625.6 330.5 L1627.3 330.5 L1629.0 341.8 L1631.8 327.1 L1634.1 337.3 L1635.8 345.2 L1637.5 327.1 L1639.7 305.0 L1641.4 320.3 L1643.4 341.3 L1645.4 309.0 L1647.7 292.0 L1649.9 280.7 L1651.6 288.6 L1653.3 327.1 L1655.6 295.4 L1657.3 292.0 L1659.0 302.2 L1660.7 320.3 L1662.6 332.2 L1664.6 314.6 L1666.3 321.4 L1668.0 292.0 L1669.7 280.7 L1671.1 273.6 L1672.6 292.0 L1673.7 273.6 L1674.8 255.5 L1676.5 268.0 L1677.7 254.4 L1679.4 222.7 L1680.5 214.2 L1682.2 231.7 L1683.9 248.7 L1685.6 260.1 L1687.9 231.7 L1689.6 247.6 L1691.3 254.4 L1693.0 249.9 L1694.4 263.4 L1695.8 283.5 L1698.1 260.1 L1699.8 271.4 L1701.5 245.3 L1703.5 229.2" fill="none" stroke="#0000ff" stroke-width="1.9" stroke-opacity="0.7" stroke-linejoin="round" stroke-linecap="butt"/>
<path d="M1717.4 306.6 L1718.5 337.0 L1720.0 346.0 L1721.3 337.0 L1722.5 329.1 L1723.6 342.7 L1724.7 365.3 L1726.4 384.0 L1727.6 342.7 L1728.7 320.0 L1729.5 291.3 L1730.4 308.9 L1731.0 354.0 L1732.7 395.9 L1734.7 384.6 L1736.3 404.1 L1737.7 378.9 L1738.9 366.4 L1740.6 388.0 L1741.9 414.9 L1743.4 376.6 L1744.0 372.1 L1745.3 376.6 L1746.8 357.4 L1747.9 354.0 L1749.6 361.9 L1751.3 366.4 L1752.5 348.3 L1753.6 320.0 L1754.2 306.6 L1755.1 298.7 L1756.4 307.8 L1758.1 283.4 L1759.3 295.3 L1760.4 272.7 L1760.6 269.3 L1761.9 250.0 L1764.4 272.7 L1765.5 289.6 L1766.6 319.1 L1767.8 284.0 L1769.3 230.8 L1771.2 250.0 L1772.9 283.4 L1774.6 261.3 L1775.3 235.3 L1776.4 212.7 L1778.1 193.4 L1779.8 218.3 L1781.2 242.1 L1782.3 212.7 L1783.5 182.9 L1785.5 229.6 L1786.6 225.1 L1788.3 234.7 L1790.0 212.7 L1791.7 201.3 L1792.9 184.6 L1794.0 195.7 L1795.7 213.8 L1796.8 180.0 L1798.5 157.9 L1800.8 186.8 L1802.5 168.7 L1803.6 165.3 L1805.3 130.8 L1807.0 165.3 L1808.7 186.8 L1809.8 171.0 L1811.5 152.8 L1812.7 171.0 L1814.4 199.3 L1814.4 212.7 L1815.5 235.3 L1816.6 255.1 L1818.3 233.0 L1819.5 229.6 L1820.6 246.6 L1821.2 269.0 L1822.7 286.0 L1824.1 257.7 L1825.4 243.5 L1826.9 252.0 L1828.0 280.3 L1829.2 314.3 L1830.3 327.0 L1831.4 332.7 L1833.7 310.0 L1836.0 327.0 L1837.1 333.8 L1839.3 331.5 L1840.8 331.0 L1841.6 349.6 L1843.3 372.3 L1845.0 351.3 L1846.1 366.6 L1847.3 389.3 L1846.7 391.3 L1847.8 404.9 L1849.0 392.5 L1850.7 397.0 L1851.8 408.3 L1853.5 425.3 L1855.0 437.8 L1856.3 414.0 L1857.5 391.3 L1858.6 382.3 L1859.7 397.0 L1860.9 408.3 L1862.6 424.2 L1863.7 414.0 L1864.8 409.4 L1866.0 417.4 L1867.1 420.8 L1868.2 414.0 L1869.4 419.6 L1870.5 431.0 L1872.2 416.2 L1873.9 412.8 L1875.6 414.0 L1877.3 408.3 L1878.4 397.0 L1880.1 383.6 L1881.8 385.9 L1884.1 384.7 L1885.2 378.0 L1886.3 355.3 L1888.0 339.4 L1889.7 336.6 L1891.4 345.1 L1893.1 332.7 L1894.8 315.7 L1896.0 310.0 L1896.5 297.3 L1898.2 286.0 L1899.4 292.8 L1901.1 282.6 L1902.8 280.3 L1903.9 263.3 L1905.4 254.8 L1907.3 266.7 L1909.0 278.0 L1910.1 297.3 L1911.8 308.6 L1913.5 297.3 L1915.2 296.2 L1916.9 280.3 L1918.1 263.3 L1919.2 249.7 L1920.5 242.9 L1922.6 249.7 L1924.3 253.7 L1926.0 246.3 L1927.2 236.0 L1928.3 233.7 L1929.7 248.4 L1930.6 258.6 L1932.3 236.0 L1933.7 225.8 L1935.7 241.6 L1937.4 253.5 L1939.1 236.0 L1940.8 247.3 L1941.9 264.3 L1942.5 277.0 L1943.6 294.0 L1944.7 311.0 L1945.9 328.0 L1947.6 337.0 L1948.1 338.4 L1949.3 346.3 L1950.4 363.3 L1951.5 382.6 L1952.3 388.8 L1953.8 376.9 L1954.9 374.1 L1956.1 382.6 L1957.2 391.6 L1958.9 396.2 L1961.2 401.8" fill="none" stroke="#008000" stroke-width="1.9" stroke-opacity="0.7" stroke-linejoin="round" stroke-linecap="butt"/>
<path d="M1260.0 359.3 L1261.9 296.7 L1263.4 292.2 L1264.7 312.6 L1265.9 336.4 L1267.0 299.0 L1267.9 273.5 L1269.3 310.3 L1270.6 355.4 L1272.1 330.7 L1273.2 348.6 L1274.3 314.8 L1275.5 313.7 L1277.0 338.6 L1278.3 328.4 L1279.4 316.0 L1280.8 342.0 L1282.3 330.7 L1283.4 321.6 L1284.5 333.0 L1286.0 339.8 L1287.4 331.8 L1289.1 383.7 L1290.8 386.0 L1293.0 410.9 L1294.7 369.0 L1295.6 335.2 L1297.6 362.2 L1299.3 339.8 L1301.5 375.8 L1304.9 343.2 L1307.8 378.0 L1309.8 380.3 L1311.7 339.8 L1314.0 356.5 L1315.7 328.4 L1318.5 367.8 L1320.8 364.4 L1322.5 333.0 L1324.4 319.9 L1325.9 336.4 L1327.0 337.5 L1328.7 366.7 L1330.4 345.2 L1333.8 378.0 L1336.6 344.3 L1340.0 386.0 L1342.9 337.5 L1344.8 378.0 L1346.8 361.0 L1349.7 349.7 L1352.3 329.0 L1354.8 380.9 L1356.5 344.3 L1358.5 317.1 L1359.9 346.3 L1361.2 376.4 L1364.1 343.0 L1366.3 366.8 L1368.6 343.0 L1371.4 373.0 L1373.7 390.0 L1375.4 359.4 L1377.1 381.0 L1379.0 377.6 L1380.5 395.7 L1382.2 400.2 L1383.9 410.3 L1386.1 387.8 L1388.7 366.2 L1390.1 373.0 L1391.0 372.5 L1392.6 398.0 L1394.4 377.6 L1396.9 356.0 L1398.6 378.7 L1401.4 340.8 L1404.3 362.8 L1405.4 362.8 L1407.3 412.8 L1409.1 431.9 L1411.6 393.4 L1412.2 391.7 L1414.5 378.7 L1417.6 404.3 L1420.3 369.6 L1422.6 398.6 L1425.8 369.6 L1427.5 378.1 L1430.3 378.7" fill="none" stroke="#ff00ff" stroke-width="1.9" stroke-opacity="0.7" stroke-linejoin="round" stroke-linecap="butt"/>
<path d="M1717.0 331.7 L1717.6 330.2 L1718.2 328.8 L1718.9 327.4 L1719.5 325.9 L1720.1 324.5 L1720.7 323.1 L1721.3 321.8 L1721.9 320.4 L1722.5 319.1 L1723.1 317.8 L1723.7 316.5 L1724.4 315.2 L1725.0 314.0 L1725.6 312.8 L1726.2 311.7 L1726.8 310.5 L1727.4 309.4 L1728.0 308.4 L1728.6 307.4 L1729.2 306.4 L1729.9 305.5 L1730.5 304.6 L1731.1 303.8 L1731.7 303.1 L1732.3 302.3 L1732.9 301.7 L1733.5 301.1 L1734.1 300.5 L1734.7 300.0 L1735.4 299.6 L1736.0 299.2 L1736.6 298.9 L1737.2 298.7 L1737.8 298.5 L1738.4 298.5 L1739.0 298.4 L1739.6 298.5 L1740.2 298.6 L1740.9 298.8 L1741.5 299.1 L1742.1 299.4 L1742.7 299.9 L1743.3 300.4 L1743.9 300.9 L1744.5 301.5 L1745.1 302.2 L1745.7 303.0 L1746.4 303.8 L1747.0 304.7 L1747.6 305.6 L1748.2 306.6 L1748.8 307.7 L1749.4 308.8 L1750.0 310.0 L1750.6 311.2 L1751.2 312.5 L1751.8 313.9 L1752.5 315.3 L1753.1 316.8 L1753.7 318.3 L1754.3 319.8 L1754.9 321.4 L1755.5 323.1 L1756.1 324.8 L1756.7 326.6 L1757.3 328.4 L1758.0 330.2 L1758.6 332.1 L1759.2 334.0 L1759.8 336.0 L1760.4 338.0 L1761.0 340.1 L1761.6 342.1 L1762.2 344.3 L1762.8 346.4 L1763.5 348.6 L1764.1 350.9 L1764.7 353.1 L1765.3 355.4 L1765.9 357.7 L1766.5 360.0 L1767.1 362.3 L1767.7 364.6 L1768.3 367.0 L1769.0 369.3 L1769.6 371.7 L1770.2 374.1 L1770.8 376.4 L1771.4 378.8 L1772.0 381.1 L1772.6 383.5 L1773.2 385.8 L1773.8 388.1 L1774.5 390.4 L1775.1 392.7 L1775.7 395.0 L1776.3 397.2 L1776.9 399.4 L1777.5 401.6 L1778.1 403.7 L1778.7 405.8 L1779.3 407.9 L1780.0 409.9 L1780.6 411.9 L1781.2 413.8 L1781.8 415.7 L1782.4 417.5 L1783.0 419.3 L1783.6 421.0 L1784.2 422.7 L1784.8 424.3 L1785.5 425.8 L1786.1 427.3 L1786.7 428.7 L1787.3 430.1 L1787.9 431.4 L1788.5 432.6 L1789.1 433.7 L1789.7 434.8 L1790.3 435.8 L1791.0 436.7 L1791.6 437.6 L1792.2 438.4 L1792.8 439.1 L1793.4 439.7 L1794.0 440.3 L1794.6 440.8 L1795.2 441.2 L1795.8 441.5 L1796.5 441.7 L1797.1 441.9 L1797.7 442.0 L1798.3 441.9 L1798.9 441.8 L1799.5 441.7 L1800.1 441.4 L1800.7 441.0 L1801.3 440.6 L1802.0 440.0 L1802.6 439.4 L1803.2 438.6 L1803.8 437.8 L1804.4 436.9 L1805.0 435.9 L1805.6 434.7 L1806.2 433.5 L1806.8 432.2 L1807.5 430.8 L1808.1 429.3 L1808.7 427.7 L1809.3 426.0 L1809.9 424.3 L1810.5 422.4 L1811.1 420.5 L1811.7 418.5 L1812.3 416.4 L1813.0 414.3 L1813.6 412.1 L1814.2 409.8 L1814.8 407.5 L1815.4 405.1 L1816.0 402.6 L1816.6 400.1 L1817.2 397.6 L1817.8 395.0 L1818.4 392.3 L1819.1 389.6 L1819.7 386.9 L1820.3 384.1 L1820.9 381.3 L1821.5 378.5 L1822.1 375.6 L1822.7 372.7 L1823.3 369.8 L1823.9 366.8 L1824.6 363.9 L1825.2 360.9 L1825.8 357.9 L1826.4 354.9 L1827.0 351.9 L1827.6 348.8 L1828.2 345.8 L1828.8 342.8 L1829.4 339.8 L1830.1 336.7 L1830.7 333.7 L1831.3 330.7 L1831.9 327.7 L1832.5 324.8 L1833.1 321.8 L1833.7 318.9 L1834.3 316.0 L1834.9 313.1 L1835.6 310.3 L1836.2 307.5 L1836.8 304.7 L1837.4 302.0 L1838.0 299.3 L1838.6 296.6 L1839.2 294.0 L1839.8 291.5 L1840.4 289.0 L1841.1 286.6 L1841.7 284.2 L1842.3 281.9 L1842.9 279.7 L1843.5 277.5 L1844.1 275.4 L1844.7 273.4 L1845.3 271.4 L1845.9 269.5 L1846.6 267.8 L1847.2 266.1 L1847.8 264.5 L1848.4 262.9 L1849.0 261.5 L1849.6 260.2 L1850.2 259.0 L1850.8 257.8 L1851.4 256.8 L1852.1 255.9 L1852.7 255.1 L1853.3 254.4 L1853.9 253.7 L1854.5 253.2 L1855.1 252.8 L1855.7 252.5 L1856.3 252.2 L1856.9 252.1 L1857.6 252.1 L1858.2 252.1 L1858.8 252.3 L1859.4 252.5 L1860.0 252.9 L1860.6 253.3 L1861.2 253.8 L1861.8 254.4 L1862.4 255.1 L1863.1 255.9 L1863.7 256.8 L1864.3 257.8 L1864.9 258.8 L1865.5 260.0 L1866.1 261.2 L1866.7 262.5 L1867.3 263.9 L1867.9 265.4 L1868.6 267.0 L1869.2 268.6 L1869.8 270.4 L1870.4 272.2 L1871.0 274.1 L1871.6 276.1 L1872.2 278.1 L1872.8 280.3 L1873.4 282.5 L1874.1 284.8 L1874.7 287.1 L1875.3 289.6 L1875.9 292.1 L1876.5 294.6 L1877.1 297.2 L1877.7 299.8 L1878.3 302.5 L1878.9 305.3 L1879.6 308.1 L1880.2 310.9 L1880.8 313.7 L1881.4 316.6 L1882.0 319.5 L1882.6 322.4 L1883.2 325.4 L1883.8 328.3 L1884.4 331.3 L1885.0 334.3 L1885.7 337.2 L1886.3 340.2 L1886.9 343.2 L1887.5 346.2 L1888.1 349.1 L1888.7 352.1 L1889.3 355.0 L1889.9 357.9 L1890.5 360.8 L1891.2 363.6 L1891.8 366.4 L1892.4 369.2 L1893.0 372.0 L1893.6 374.7 L1894.2 377.3 L1894.8 379.9 L1895.4 382.5 L1896.0 385.0 L1896.7 387.4 L1897.3 389.8 L1897.9 392.1 L1898.5 394.4 L1899.1 396.6 L1899.7 398.7 L1900.3 400.8 L1900.9 402.8 L1901.5 404.7 L1902.2 406.5 L1902.8 408.3 L1903.4 410.0 L1904.0 411.6 L1904.6 413.2 L1905.2 414.6 L1905.8 416.0 L1906.4 417.3 L1907.0 418.5 L1907.7 419.6 L1908.3 420.6 L1908.9 421.6 L1909.5 422.4 L1910.1 423.1 L1910.7 423.8 L1911.3 424.3 L1911.9 424.7 L1912.5 425.1 L1913.2 425.3 L1913.8 425.4 L1914.4 425.4 L1915.0 425.3 L1915.6 425.1 L1916.2 424.7 L1916.8 424.3 L1917.4 423.7 L1918.0 423.0 L1918.7 422.2 L1919.3 421.3 L1919.9 420.3 L1920.5 419.1 L1921.1 417.9 L1921.7 416.6 L1922.3 415.1 L1922.9 413.6 L1923.5 412.0 L1924.2 410.3 L1924.8 408.4 L1925.4 406.5 L1926.0 404.5 L1926.6 402.5 L1927.2 400.3 L1927.8 398.0 L1928.4 395.7 L1929.0 393.3 L1929.7 390.8 L1930.3 388.3 L1930.9 385.7 L1931.5 383.0 L1932.1 380.2 L1932.7 377.4 L1933.3 374.5 L1933.9 371.5 L1934.5 368.5 L1935.2 365.5 L1935.8 362.3 L1936.4 359.2 L1937.0 355.9 L1937.6 352.7 L1938.2 349.4 L1938.8 346.0 L1939.4 342.6 L1940.0 339.1 L1940.7 335.7 L1941.3 332.2 L1941.9 328.6 L1942.5 325.1 L1943.1 321.5 L1943.7 317.9 L1944.3 314.3 L1944.9 310.7 L1945.5 307.1 L1946.2 303.4 L1946.8 299.8 L1947.4 296.2 L1948.0 292.6 L1948.6 289.0 L1949.2 285.4 L1949.8 281.9 L1950.4 278.4 L1951.0 274.9 L1951.7 271.4 L1952.3 268.0 L1952.9 264.6 L1953.5 261.2 L1954.1 257.9 L1954.7 254.6 L1955.3 251.4 L1955.9 248.3 L1956.5 245.2 L1957.1 242.2 L1957.8 239.2 L1958.4 236.3 L1959.0 233.5 L1959.6 230.8 L1960.2 228.2 L1960.8 225.6" fill="none" stroke="#000" stroke-width="1.95" stroke-opacity="1.0" stroke-linejoin="round" stroke-linecap="butt"/>
<path d="M1495.0 306.9 L1495.5 306.9 L1496.0 306.9 L1496.5 306.9 L1497.1 306.9 L1497.6 307.0 L1498.1 307.0 L1498.6 307.1 L1499.2 307.2 L1499.7 307.2 L1500.2 307.3 L1500.7 307.4 L1501.2 307.5 L1501.8 307.7 L1502.3 307.8 L1502.8 307.9 L1503.3 308.1 L1503.9 308.2 L1504.4 308.4 L1504.9 308.5 L1505.4 308.7 L1506.0 308.8 L1506.5 309.0 L1507.0 309.2 L1507.5 309.4 L1508.0 309.5 L1508.6 309.7 L1509.1 309.9 L1509.6 310.1 L1510.1 310.3 L1510.7 310.4 L1511.2 310.6 L1511.7 310.8 L1512.2 311.0 L1512.8 311.2 L1513.3 311.3 L1513.8 311.5 L1514.3 311.7 L1514.8 311.8 L1515.4 312.0 L1515.9 312.2 L1516.4 312.3 L1516.9 312.4 L1517.5 312.6 L1518.0 312.7 L1518.5 312.8 L1519.0 312.9 L1519.6 313.1 L1520.1 313.2 L1520.6 313.2 L1521.1 313.3 L1521.6 313.4 L1522.2 313.5 L1522.7 313.5 L1523.2 313.5 L1523.7 313.6 L1524.3 313.6 L1524.8 313.6 L1525.3 313.6 L1525.8 313.5 L1526.4 313.5 L1526.9 313.4 L1527.4 313.4 L1527.9 313.3 L1528.5 313.2 L1529.0 313.1 L1529.5 313.0 L1530.0 312.8 L1530.5 312.7 L1531.1 312.5 L1531.6 312.3 L1532.1 312.2 L1532.6 312.0 L1533.2 311.8 L1533.7 311.5 L1534.2 311.3 L1534.7 311.1 L1535.3 310.8 L1535.8 310.5 L1536.3 310.2 L1536.8 309.9 L1537.3 309.6 L1537.9 309.3 L1538.4 309.0 L1538.9 308.7 L1539.4 308.3 L1540.0 307.9 L1540.5 307.6 L1541.0 307.2 L1541.5 306.8 L1542.1 306.4 L1542.6 305.9 L1543.1 305.5 L1543.6 305.1 L1544.1 304.6 L1544.7 304.1 L1545.2 303.7 L1545.7 303.2 L1546.2 302.7 L1546.8 302.2 L1547.3 301.7 L1547.8 301.1 L1548.3 300.6 L1548.9 300.0 L1549.4 299.5 L1549.9 298.9 L1550.4 298.3 L1550.9 297.7 L1551.5 297.1 L1552.0 296.5 L1552.5 295.9 L1553.0 295.3 L1553.6 294.6 L1554.1 294.0 L1554.6 293.3 L1555.1 292.7 L1555.7 292.0 L1556.2 291.3 L1556.7 290.6 L1557.2 289.9 L1557.7 289.2 L1558.3 288.5 L1558.8 287.8 L1559.3 287.0 L1559.8 286.3 L1560.4 285.6 L1560.9 284.9 L1561.4 284.1 L1561.9 283.4 L1562.5 282.7 L1563.0 281.9 L1563.5 281.2 L1564.0 280.5 L1564.6 279.7 L1565.1 279.0 L1565.6 278.3 L1566.1 277.5 L1566.6 276.8 L1567.2 276.1 L1567.7 275.4 L1568.2 274.7 L1568.7 274.0 L1569.3 273.3 L1569.8 272.7 L1570.3 272.0 L1570.8 271.3 L1571.4 270.7 L1571.9 270.0 L1572.4 269.4 L1572.9 268.8 L1573.4 268.2 L1574.0 267.6 L1574.5 267.0 L1575.0 266.5 L1575.5 265.9 L1576.1 265.4 L1576.6 264.9 L1577.1 264.4 L1577.6 263.9 L1578.2 263.4 L1578.7 263.0 L1579.2 262.6 L1579.7 262.2 L1580.2 261.8 L1580.8 261.4 L1581.3 261.1 L1581.8 260.8 L1582.3 260.5 L1582.9 260.2 L1583.4 260.0 L1583.9 259.8 L1584.4 259.6 L1585.0 259.4 L1585.5 259.3 L1586.0 259.2 L1586.5 259.1 L1587.0 259.0 L1587.6 259.0 L1588.1 259.0 L1588.6 259.0 L1589.1 259.0 L1589.7 259.1 L1590.2 259.2 L1590.7 259.3 L1591.2 259.4 L1591.8 259.6 L1592.3 259.8 L1592.8 260.0 L1593.3 260.2 L1593.8 260.4 L1594.4 260.7 L1594.9 261.0 L1595.4 261.3 L1595.9 261.6 L1596.5 261.9 L1597.0 262.3 L1597.5 262.7 L1598.0 263.1 L1598.6 263.5 L1599.1 263.9 L1599.6 264.4 L1600.1 264.9 L1600.7 265.4 L1601.2 265.9 L1601.7 266.4 L1602.2 266.9 L1602.7 267.5 L1603.3 268.1 L1603.8 268.7 L1604.3 269.3 L1604.8 269.9 L1605.4 270.5 L1605.9 271.2 L1606.4 271.8 L1606.9 272.5 L1607.5 273.2 L1608.0 273.9 L1608.5 274.6 L1609.0 275.3 L1609.5 276.1 L1610.1 276.8 L1610.6 277.6 L1611.1 278.3 L1611.6 279.1 L1612.2 279.9 L1612.7 280.7 L1613.2 281.5 L1613.7 282.4 L1614.3 283.2 L1614.8 284.0 L1615.3 284.9 L1615.8 285.7 L1616.3 286.6 L1616.9 287.5 L1617.4 288.3 L1617.9 289.2 L1618.4 290.1 L1619.0 291.0 L1619.5 291.9 L1620.0 292.7 L1620.5 293.6 L1621.1 294.5 L1621.6 295.4 L1622.1 296.2 L1622.6 297.1 L1623.1 298.0 L1623.7 298.8 L1624.2 299.7 L1624.7 300.5 L1625.2 301.3 L1625.8 302.1 L1626.3 303.0 L1626.8 303.7 L1627.3 304.5 L1627.9 305.3 L1628.4 306.1 L1628.9 306.8 L1629.4 307.5 L1629.9 308.2 L1630.5 308.9 L1631.0 309.6 L1631.5 310.2 L1632.0 310.8 L1632.6 311.4 L1633.1 312.0 L1633.6 312.6 L1634.1 313.1 L1634.7 313.6 L1635.2 314.1 L1635.7 314.5 L1636.2 315.0 L1636.8 315.3 L1637.3 315.7 L1637.8 316.0 L1638.3 316.3 L1638.8 316.6 L1639.4 316.8 L1639.9 317.0 L1640.4 317.2 L1640.9 317.3 L1641.5 317.4 L1642.0 317.4 L1642.5 317.5 L1643.0 317.4 L1643.6 317.3 L1644.1 317.2 L1644.6 317.1 L1645.1 316.9 L1645.6 316.6 L1646.2 316.3 L1646.7 316.0 L1647.2 315.7 L1647.7 315.3 L1648.3 314.8 L1648.8 314.3 L1649.3 313.8 L1649.8 313.3 L1650.4 312.7 L1650.9 312.1 L1651.4 311.4 L1651.9 310.7 L1652.4 310.0 L1653.0 309.3 L1653.5 308.5 L1654.0 307.7 L1654.5 306.8 L1655.1 305.9 L1655.6 305.0 L1656.1 304.1 L1656.6 303.2 L1657.2 302.2 L1657.7 301.2 L1658.2 300.2 L1658.7 299.1 L1659.2 298.0 L1659.8 296.9 L1660.3 295.8 L1660.8 294.7 L1661.3 293.5 L1661.9 292.4 L1662.4 291.2 L1662.9 289.9 L1663.4 288.7 L1664.0 287.5 L1664.5 286.2 L1665.0 284.9 L1665.5 283.6 L1666.1 282.3 L1666.6 281.0 L1667.1 279.7 L1667.6 278.3 L1668.1 277.0 L1668.7 275.6 L1669.2 274.3 L1669.7 272.9 L1670.2 271.5 L1670.8 270.1 L1671.3 268.7 L1671.8 267.3 L1672.3 265.9 L1672.9 264.5 L1673.4 263.1 L1673.9 261.6 L1674.4 260.2 L1674.9 258.8 L1675.5 257.4 L1676.0 255.9 L1676.5 254.5 L1677.0 253.1 L1677.6 251.7 L1678.1 250.3 L1678.6 248.9 L1679.1 247.5 L1679.7 246.1 L1680.2 244.8 L1680.7 243.4 L1681.2 242.1 L1681.7 240.8 L1682.3 239.5 L1682.8 238.2 L1683.3 236.9 L1683.8 235.6 L1684.4 234.4 L1684.9 233.2 L1685.4 232.0 L1685.9 230.9 L1686.5 229.7 L1687.0 228.6 L1687.5 227.5 L1688.0 226.5 L1688.5 225.5 L1689.1 224.5 L1689.6 223.5 L1690.1 222.6 L1690.6 221.7 L1691.2 220.9 L1691.7 220.0 L1692.2 219.3 L1692.7 218.5 L1693.3 217.8 L1693.8 217.2 L1694.3 216.6 L1694.8 216.0 L1695.3 215.5 L1695.9 215.0 L1696.4 214.6 L1696.9 214.2 L1697.4 213.9 L1698.0 213.7 L1698.5 213.4 L1699.0 213.3 L1699.5 213.2 L1700.1 213.1 L1700.6 213.1 L1701.1 213.2 L1701.6 213.3 L1702.2 213.5 L1702.7 213.8 L1703.2 214.1 L1703.7 214.5" fill="none" stroke="#000" stroke-width="1.95" stroke-opacity="1.0" stroke-linejoin="round" stroke-linecap="butt"/>
<path d="M1717.0 292.0 L1717.6 293.3 L1718.2 294.7 L1718.9 296.1 L1719.5 297.5 L1720.1 299.0 L1720.7 300.4 L1721.3 301.9 L1721.9 303.3 L1722.5 304.8 L1723.1 306.2 L1723.8 307.7 L1724.4 309.1 L1725.0 310.5 L1725.6 311.9 L1726.2 313.3 L1726.8 314.7 L1727.4 316.1 L1728.0 317.4 L1728.6 318.7 L1729.3 320.0 L1729.9 321.2 L1730.5 322.4 L1731.1 323.5 L1731.7 324.6 L1732.3 325.7 L1732.9 326.7 L1733.5 327.7 L1734.2 328.6 L1734.8 329.5 L1735.4 330.3 L1736.0 331.0 L1736.6 331.6 L1737.2 332.2 L1737.8 332.8 L1738.4 333.2 L1739.0 333.6 L1739.7 333.9 L1740.3 334.1 L1740.9 334.2 L1741.5 334.2 L1742.1 334.2 L1742.7 334.1 L1743.3 333.9 L1743.9 333.7 L1744.6 333.3 L1745.2 332.9 L1745.8 332.5 L1746.4 331.9 L1747.0 331.3 L1747.6 330.6 L1748.2 329.9 L1748.8 329.0 L1749.5 328.2 L1750.1 327.2 L1750.7 326.2 L1751.3 325.1 L1751.9 324.0 L1752.5 322.8 L1753.1 321.5 L1753.7 320.2 L1754.3 318.8 L1755.0 317.4 L1755.6 315.9 L1756.2 314.3 L1756.8 312.7 L1757.4 311.1 L1758.0 309.4 L1758.6 307.6 L1759.2 305.8 L1759.9 304.0 L1760.5 302.1 L1761.1 300.1 L1761.7 298.1 L1762.3 296.1 L1762.9 294.0 L1763.5 291.9 L1764.1 289.7 L1764.7 287.5 L1765.4 285.3 L1766.0 283.0 L1766.6 280.8 L1767.2 278.4 L1767.8 276.1 L1768.4 273.8 L1769.0 271.4 L1769.6 269.0 L1770.3 266.6 L1770.9 264.2 L1771.5 261.8 L1772.1 259.4 L1772.7 257.0 L1773.3 254.6 L1773.9 252.2 L1774.5 249.8 L1775.1 247.4 L1775.8 245.0 L1776.4 242.6 L1777.0 240.2 L1777.6 237.9 L1778.2 235.5 L1778.8 233.2 L1779.4 231.0 L1780.0 228.7 L1780.7 226.5 L1781.3 224.3 L1781.9 222.1 L1782.5 220.0 L1783.1 218.0 L1783.7 215.9 L1784.3 213.9 L1784.9 212.0 L1785.6 210.1 L1786.2 208.2 L1786.8 206.4 L1787.4 204.7 L1788.0 203.0 L1788.6 201.4 L1789.2 199.8 L1789.8 198.3 L1790.4 196.9 L1791.1 195.5 L1791.7 194.2 L1792.3 193.0 L1792.9 191.8 L1793.5 190.7 L1794.1 189.7 L1794.7 188.7 L1795.3 187.9 L1796.0 187.1 L1796.6 186.4 L1797.2 185.8 L1797.8 185.2 L1798.4 184.8 L1799.0 184.4 L1799.6 184.2 L1800.2 184.0 L1800.8 183.9 L1801.5 184.0 L1802.1 184.1 L1802.7 184.3 L1803.3 184.6 L1803.9 185.1 L1804.5 185.6 L1805.1 186.2 L1805.7 187.0 L1806.4 187.9 L1807.0 188.9 L1807.6 189.9 L1808.2 191.1 L1808.8 192.4 L1809.4 193.8 L1810.0 195.3 L1810.6 196.9 L1811.2 198.6 L1811.9 200.4 L1812.5 202.3 L1813.1 204.2 L1813.7 206.3 L1814.3 208.4 L1814.9 210.6 L1815.5 212.9 L1816.1 215.2 L1816.8 217.7 L1817.4 220.2 L1818.0 222.7 L1818.6 225.4 L1819.2 228.1 L1819.8 230.8 L1820.4 233.6 L1821.0 236.5 L1821.7 239.4 L1822.3 242.4 L1822.9 245.5 L1823.5 248.5 L1824.1 251.7 L1824.7 254.8 L1825.3 258.0 L1825.9 261.3 L1826.5 264.6 L1827.2 267.9 L1827.8 271.2 L1828.4 274.6 L1829.0 278.0 L1829.6 281.4 L1830.2 284.9 L1830.8 288.3 L1831.4 291.8 L1832.1 295.3 L1832.7 298.8 L1833.3 302.2 L1833.9 305.7 L1834.5 309.2 L1835.1 312.7 L1835.7 316.2 L1836.3 319.6 L1836.9 323.1 L1837.6 326.5 L1838.2 329.9 L1838.8 333.3 L1839.4 336.6 L1840.0 340.0 L1840.6 343.3 L1841.2 346.5 L1841.8 349.7 L1842.5 352.9 L1843.1 356.0 L1843.7 359.1 L1844.3 362.1 L1844.9 365.0 L1845.5 367.9 L1846.1 370.7 L1846.7 373.5 L1847.3 376.2 L1848.0 378.8 L1848.6 381.4 L1849.2 383.9 L1849.8 386.2 L1850.4 388.5 L1851.0 390.8 L1851.6 392.9 L1852.2 394.9 L1852.9 396.9 L1853.5 398.7 L1854.1 400.5 L1854.7 402.2 L1855.3 403.8 L1855.9 405.3 L1856.5 406.7 L1857.1 408.0 L1857.8 409.2 L1858.4 410.4 L1859.0 411.4 L1859.6 412.4 L1860.2 413.2 L1860.8 414.0 L1861.4 414.6 L1862.0 415.2 L1862.6 415.7 L1863.3 416.0 L1863.9 416.3 L1864.5 416.5 L1865.1 416.6 L1865.7 416.6 L1866.3 416.4 L1866.9 416.2 L1867.5 415.9 L1868.2 415.5 L1868.8 415.0 L1869.4 414.4 L1870.0 413.6 L1870.6 412.8 L1871.2 411.9 L1871.8 410.9 L1872.4 409.7 L1873.0 408.5 L1873.7 407.2 L1874.3 405.7 L1874.9 404.2 L1875.5 402.6 L1876.1 400.9 L1876.7 399.1 L1877.3 397.3 L1877.9 395.3 L1878.6 393.3 L1879.2 391.2 L1879.8 389.1 L1880.4 386.9 L1881.0 384.6 L1881.6 382.3 L1882.2 379.9 L1882.8 377.4 L1883.4 375.0 L1884.1 372.4 L1884.7 369.9 L1885.3 367.3 L1885.9 364.6 L1886.5 362.0 L1887.1 359.3 L1887.7 356.6 L1888.3 353.8 L1889.0 351.1 L1889.6 348.3 L1890.2 345.5 L1890.8 342.7 L1891.4 340.0 L1892.0 337.2 L1892.6 334.4 L1893.2 331.6 L1893.9 328.9 L1894.5 326.1 L1895.1 323.4 L1895.7 320.6 L1896.3 318.0 L1896.9 315.3 L1897.5 312.6 L1898.1 310.0 L1898.7 307.4 L1899.4 304.9 L1900.0 302.4 L1900.6 299.9 L1901.2 297.4 L1901.8 295.1 L1902.4 292.7 L1903.0 290.4 L1903.6 288.1 L1904.3 285.9 L1904.9 283.8 L1905.5 281.7 L1906.1 279.7 L1906.7 277.7 L1907.3 275.8 L1907.9 274.0 L1908.5 272.2 L1909.1 270.5 L1909.8 268.9 L1910.4 267.3 L1911.0 265.8 L1911.6 264.4 L1912.2 263.1 L1912.8 261.9 L1913.4 260.8 L1914.0 259.7 L1914.7 258.8 L1915.3 257.9 L1915.9 257.1 L1916.5 256.5 L1917.1 255.9 L1917.7 255.4 L1918.3 255.1 L1918.9 254.8 L1919.5 254.6 L1920.2 254.6 L1920.8 254.6 L1921.4 254.7 L1922.0 254.9 L1922.6 255.2 L1923.2 255.6 L1923.8 256.1 L1924.4 256.6 L1925.1 257.3 L1925.7 258.0 L1926.3 258.8 L1926.9 259.7 L1927.5 260.7 L1928.1 261.8 L1928.7 262.9 L1929.3 264.1 L1930.0 265.4 L1930.6 266.7 L1931.2 268.1 L1931.8 269.6 L1932.4 271.2 L1933.0 272.8 L1933.6 274.5 L1934.2 276.2 L1934.8 278.0 L1935.5 279.9 L1936.1 281.9 L1936.7 283.9 L1937.3 285.9 L1937.9 288.0 L1938.5 290.2 L1939.1 292.4 L1939.7 294.6 L1940.4 296.9 L1941.0 299.3 L1941.6 301.7 L1942.2 304.1 L1942.8 306.6 L1943.4 309.1 L1944.0 311.7 L1944.6 314.2 L1945.2 316.8 L1945.9 319.4 L1946.5 322.0 L1947.1 324.7 L1947.7 327.3 L1948.3 330.0 L1948.9 332.7 L1949.5 335.4 L1950.1 338.1 L1950.8 340.7 L1951.4 343.4 L1952.0 346.1 L1952.6 348.7 L1953.2 351.4 L1953.8 354.0 L1954.4 356.6 L1955.0 359.2 L1955.6 361.8 L1956.3 364.3 L1956.9 366.8 L1957.5 369.3 L1958.1 371.8 L1958.7 374.2 L1959.3 376.5 L1959.9 378.8 L1960.5 381.1 L1961.2 383.3" fill="none" stroke="#000" stroke-width="1.95" stroke-opacity="1.0" stroke-linejoin="round" stroke-linecap="butt"/>
<path d="M1259.6 316.9 L1260.1 317.0 L1260.5 317.1 L1260.9 317.2 L1261.3 317.3 L1261.8 317.4 L1262.2 317.6 L1262.6 317.7 L1263.1 317.8 L1263.5 317.9 L1263.9 318.1 L1264.3 318.2 L1264.8 318.3 L1265.2 318.4 L1265.6 318.6 L1266.1 318.7 L1266.5 318.9 L1266.9 319.0 L1267.3 319.1 L1267.8 319.3 L1268.2 319.4 L1268.6 319.6 L1269.1 319.7 L1269.5 319.9 L1269.9 320.0 L1270.3 320.2 L1270.8 320.3 L1271.2 320.5 L1271.6 320.7 L1272.1 320.8 L1272.5 321.0 L1272.9 321.2 L1273.3 321.3 L1273.8 321.5 L1274.2 321.7 L1274.6 321.8 L1275.1 322.0 L1275.5 322.2 L1275.9 322.4 L1276.3 322.5 L1276.8 322.7 L1277.2 322.9 L1277.6 323.1 L1278.1 323.3 L1278.5 323.5 L1278.9 323.6 L1279.3 323.8 L1279.8 324.0 L1280.2 324.2 L1280.6 324.4 L1281.1 324.6 L1281.5 324.8 L1281.9 325.0 L1282.3 325.2 L1282.8 325.4 L1283.2 325.6 L1283.6 325.8 L1284.1 326.0 L1284.5 326.2 L1284.9 326.5 L1285.3 326.7 L1285.8 326.9 L1286.2 327.1 L1286.6 327.3 L1287.1 327.5 L1287.5 327.8 L1287.9 328.0 L1288.3 328.2 L1288.8 328.4 L1289.2 328.6 L1289.6 328.9 L1290.1 329.1 L1290.5 329.3 L1290.9 329.6 L1291.3 329.8 L1291.8 330.0 L1292.2 330.3 L1292.6 330.5 L1293.1 330.7 L1293.5 331.0 L1293.9 331.2 L1294.3 331.4 L1294.8 331.7 L1295.2 331.9 L1295.6 332.2 L1296.1 332.4 L1296.5 332.7 L1296.9 332.9 L1297.3 333.2 L1297.8 333.4 L1298.2 333.7 L1298.6 333.9 L1299.1 334.2 L1299.5 334.4 L1299.9 334.7 L1300.3 334.9 L1300.8 335.2 L1301.2 335.5 L1301.6 335.7 L1302.1 336.0 L1302.5 336.2 L1302.9 336.5 L1303.3 336.8 L1303.8 337.0 L1304.2 337.3 L1304.6 337.6 L1305.1 337.8 L1305.5 338.1 L1305.9 338.4 L1306.3 338.7 L1306.8 338.9 L1307.2 339.2 L1307.6 339.5 L1308.1 339.8 L1308.5 340.0 L1308.9 340.3 L1309.3 340.6 L1309.8 340.9 L1310.2 341.1 L1310.6 341.4 L1311.1 341.7 L1311.5 342.0 L1311.9 342.3 L1312.3 342.6 L1312.8 342.8 L1313.2 343.1 L1313.6 343.4 L1314.1 343.7 L1314.5 344.0 L1314.9 344.3 L1315.3 344.6 L1315.8 344.9 L1316.2 345.2 L1316.6 345.4 L1317.1 345.7 L1317.5 346.0 L1317.9 346.3 L1318.3 346.6 L1318.8 346.9 L1319.2 347.2 L1319.6 347.5 L1320.1 347.8 L1320.5 348.1 L1320.9 348.4 L1321.3 348.7 L1321.8 349.0 L1322.2 349.3 L1322.6 349.6 L1323.1 349.9 L1323.5 350.2 L1323.9 350.5 L1324.3 350.8 L1324.8 351.1 L1325.2 351.5 L1325.6 351.8 L1326.1 352.1 L1326.5 352.4 L1326.9 352.7 L1327.4 353.0 L1327.8 353.3 L1328.2 353.6 L1328.6 353.9 L1329.1 354.2 L1329.5 354.6 L1329.9 354.9 L1330.4 355.2 L1330.8 355.5 L1331.2 355.8 L1331.6 356.1 L1332.1 356.4 L1332.5 356.8 L1332.9 357.1 L1333.4 357.4 L1333.8 357.7 L1334.2 358.0 L1334.6 358.3 L1335.1 358.7 L1335.5 359.0 L1335.9 359.3 L1336.4 359.6 L1336.8 359.9 L1337.2 360.3 L1337.6 360.6 L1338.1 360.9 L1338.5 361.2 L1338.9 361.5 L1339.4 361.9 L1339.8 362.2 L1340.2 362.5 L1340.6 362.8 L1341.1 363.1 L1341.5 363.5 L1341.9 363.8 L1342.4 364.1 L1342.8 364.4 L1343.2 364.8 L1343.6 365.1 L1344.1 365.4 L1344.5 365.7 L1344.9 366.1 L1345.4 366.4 L1345.8 366.7 L1346.2 367.0 L1346.6 367.4 L1347.1 367.7 L1347.5 368.0 L1347.9 368.3 L1348.4 368.7 L1348.8 369.0 L1349.2 369.3 L1349.6 369.6 L1350.1 370.0 L1350.5 370.3 L1350.9 370.6 L1351.4 370.9 L1351.8 371.3 L1352.2 371.6 L1352.6 371.9 L1353.1 372.2 L1353.5 372.6 L1353.9 372.9 L1354.4 373.2 L1354.8 373.5 L1355.2 373.8 L1355.6 374.2 L1356.1 374.5 L1356.5 374.8 L1356.9 375.1 L1357.4 375.4 L1357.8 375.8 L1358.2 376.1 L1358.6 376.4 L1359.1 376.7 L1359.5 377.0 L1359.9 377.3 L1360.4 377.6 L1360.8 377.9 L1361.2 378.3 L1361.6 378.6 L1362.1 378.9 L1362.5 379.2 L1362.9 379.5 L1363.4 379.8 L1363.8 380.1 L1364.2 380.4 L1364.6 380.7 L1365.1 381.0 L1365.5 381.3 L1365.9 381.6 L1366.4 381.9 L1366.8 382.1 L1367.2 382.4 L1367.6 382.7 L1368.1 383.0 L1368.5 383.3 L1368.9 383.6 L1369.4 383.9 L1369.8 384.1 L1370.2 384.4 L1370.6 384.7 L1371.1 385.0 L1371.5 385.2 L1371.9 385.5 L1372.4 385.8 L1372.8 386.0 L1373.2 386.3 L1373.6 386.6 L1374.1 386.8 L1374.5 387.1 L1374.9 387.3 L1375.4 387.6 L1375.8 387.8 L1376.2 388.1 L1376.6 388.3 L1377.1 388.6 L1377.5 388.8 L1377.9 389.1 L1378.4 389.3 L1378.8 389.5 L1379.2 389.8 L1379.6 390.0 L1380.1 390.2 L1380.5 390.4 L1380.9 390.7 L1381.4 390.9 L1381.8 391.1 L1382.2 391.3 L1382.6 391.5 L1383.1 391.7 L1383.5 391.9 L1383.9 392.1 L1384.4 392.3 L1384.8 392.5 L1385.2 392.7 L1385.6 392.9 L1386.1 393.1 L1386.5 393.3 L1386.9 393.4 L1387.4 393.6 L1387.8 393.8 L1388.2 394.0 L1388.6 394.1 L1389.1 394.3 L1389.5 394.5 L1389.9 394.6 L1390.4 394.8 L1390.8 394.9 L1391.2 395.1 L1391.6 395.2 L1392.1 395.3 L1392.5 395.5 L1392.9 395.6 L1393.4 395.7 L1393.8 395.9 L1394.2 396.0 L1394.6 396.1 L1395.1 396.2 L1395.5 396.3 L1395.9 396.5 L1396.4 396.6 L1396.8 396.7 L1397.2 396.8 L1397.6 396.9 L1398.1 397.0 L1398.5 397.1 L1398.9 397.1 L1399.4 397.2 L1399.8 397.3 L1400.2 397.4 L1400.6 397.5 L1401.1 397.5 L1401.5 397.6 L1401.9 397.7 L1402.4 397.7 L1402.8 397.8 L1403.2 397.9 L1403.6 397.9 L1404.1 398.0 L1404.5 398.0 L1404.9 398.1 L1405.4 398.1 L1405.8 398.1 L1406.2 398.2 L1406.6 398.2 L1407.1 398.2 L1407.5 398.3 L1407.9 398.3 L1408.4 398.3 L1408.8 398.3 L1409.2 398.3 L1409.6 398.4 L1410.1 398.4 L1410.5 398.4 L1410.9 398.4 L1411.4 398.4 L1411.8 398.4 L1412.2 398.4 L1412.6 398.3 L1413.1 398.3 L1413.5 398.3 L1413.9 398.3 L1414.4 398.3 L1414.8 398.3 L1415.2 398.2 L1415.6 398.2 L1416.1 398.2 L1416.5 398.1 L1416.9 398.1 L1417.4 398.1 L1417.8 398.0 L1418.2 398.0 L1418.6 397.9 L1419.1 397.9 L1419.5 397.8 L1419.9 397.7 L1420.4 397.7 L1420.8 397.6 L1421.2 397.6 L1421.6 397.5 L1422.1 397.4 L1422.5 397.3 L1422.9 397.3 L1423.4 397.2 L1423.8 397.1 L1424.2 397.0 L1424.7 396.9 L1425.1 396.8 L1425.5 396.7 L1425.9 396.6 L1426.4 396.5 L1426.8 396.4 L1427.2 396.3 L1427.7 396.2 L1428.1 396.1 L1428.5 396.0 L1428.9 395.9 L1429.4 395.8 L1429.8 395.6 L1430.2 395.5 L1430.7 395.4" fill="none" stroke="#000" stroke-width="1.95" stroke-opacity="1.0" stroke-linejoin="round" stroke-linecap="butt"/>
<line x1="145.9" y1="66.15" x2="1020.1" y2="66.15" stroke="#000" stroke-width="1.95" stroke-dasharray="8.9 17.27"/>
<line x1="1195.2" y1="312.88" x2="2069.8" y2="312.88" stroke="#000" stroke-width="2.3" stroke-dasharray="9.3 16.87"/>
<line x1="166.42" y1="614.45" x2="166.42" y2="621.75" stroke="#000" stroke-width="1.8"/>
<line x1="187.24" y1="614.45" x2="187.24" y2="621.75" stroke="#000" stroke-width="1.8"/>
<line x1="208.06" y1="614.45" x2="208.06" y2="621.75" stroke="#000" stroke-width="1.8"/>
<line x1="228.89" y1="614.45" x2="228.89" y2="621.75" stroke="#000" stroke-width="1.8"/>
<line x1="270.53" y1="614.45" x2="270.53" y2="621.75" stroke="#000" stroke-width="1.8"/>
<line x1="291.35" y1="614.45" x2="291.35" y2="621.75" stroke="#000" stroke-width="1.8"/>
<line x1="312.17" y1="614.45" x2="312.17" y2="621.75" stroke="#000" stroke-width="1.8"/>
<line x1="332.99" y1="614.45" x2="332.99" y2="621.75" stroke="#000" stroke-width="1.8"/>
<line x1="374.64" y1="614.45" x2="374.64" y2="621.75" stroke="#000" stroke-width="1.8"/>
<line x1="395.46" y1="614.45" x2="395.46" y2="621.75" stroke="#000" stroke-width="1.8"/>
<line x1="416.28" y1="614.45" x2="416.28" y2="621.75" stroke="#000" stroke-width="1.8"/>
<line x1="437.10" y1="614.45" x2="437.10" y2="621.75" stroke="#000" stroke-width="1.8"/>
<line x1="478.74" y1="614.45" x2="478.74" y2="621.75" stroke="#000" stroke-width="1.8"/>
<line x1="499.56" y1="614.45" x2="499.56" y2="621.75" stroke="#000" stroke-width="1.8"/>
<line x1="520.39" y1="614.45" x2="520.39" y2="621.75" stroke="#000" stroke-width="1.8"/>
<line x1="541.21" y1="614.45" x2="541.21" y2="621.75" stroke="#000" stroke-width="1.8"/>
<line x1="582.85" y1="614.45" x2="582.85" y2="621.75" stroke="#000" stroke-width="1.8"/>
<line x1="603.67" y1="614.45" x2="603.67" y2="621.75" stroke="#000" stroke-width="1.8"/>
<line x1="624.49" y1="614.45" x2="624.49" y2="621.75" stroke="#000" stroke-width="1.8"/>
<line x1="645.31" y1="614.45" x2="645.31" y2="621.75" stroke="#000" stroke-width="1.8"/>
<line x1="686.96" y1="614.45" x2="686.96" y2="621.75" stroke="#000" stroke-width="1.8"/>
<line x1="707.78" y1="614.45" x2="707.78" y2="621.75" stroke="#000" stroke-width="1.8"/>
<line x1="728.60" y1="614.45" x2="728.60" y2="621.75" stroke="#000" stroke-width="1.8"/>
<line x1="749.42" y1="614.45" x2="749.42" y2="621.75" stroke="#000" stroke-width="1.8"/>
<line x1="791.06" y1="614.45" x2="791.06" y2="621.75" stroke="#000" stroke-width="1.8"/>
<line x1="811.89" y1="614.45" x2="811.89" y2="621.75" stroke="#000" stroke-width="1.8"/>
<line x1="832.71" y1="614.45" x2="832.71" y2="621.75" stroke="#000" stroke-width="1.8"/>
<line x1="853.53" y1="614.45" x2="853.53" y2="621.75" stroke="#000" stroke-width="1.8"/>
<line x1="895.17" y1="614.45" x2="895.17" y2="621.75" stroke="#000" stroke-width="1.8"/>
<line x1="915.99" y1="614.45" x2="915.99" y2="621.75" stroke="#000" stroke-width="1.8"/>
<line x1="936.81" y1="614.45" x2="936.81" y2="621.75" stroke="#000" stroke-width="1.8"/>
<line x1="957.64" y1="614.45" x2="957.64" y2="621.75" stroke="#000" stroke-width="1.8"/>
<line x1="999.28" y1="614.45" x2="999.28" y2="621.75" stroke="#000" stroke-width="1.8"/>
<line x1="1020.10" y1="614.45" x2="1020.10" y2="621.75" stroke="#000" stroke-width="1.8"/>
<line x1="145.60" y1="614.45" x2="145.60" y2="626.85" stroke="#000" stroke-width="2.0"/>
<text transform="translate(145.60 660.90) scale(0.99 1.0)" text-anchor="middle" class="t" fill="#000" stroke="#000">0.05</text>
<line x1="249.71" y1="614.45" x2="249.71" y2="626.85" stroke="#000" stroke-width="2.0"/>
<text transform="translate(249.71 660.90) scale(0.99 1.0)" text-anchor="middle" class="t" fill="#000" stroke="#000">0.10</text>
<line x1="353.81" y1="614.45" x2="353.81" y2="626.85" stroke="#000" stroke-width="2.0"/>
<text transform="translate(353.81 660.90) scale(0.99 1.0)" text-anchor="middle" class="t" fill="#000" stroke="#000">0.15</text>
<line x1="457.92" y1="614.45" x2="457.92" y2="626.85" stroke="#000" stroke-width="2.0"/>
<text transform="translate(457.92 660.90) scale(0.99 1.0)" text-anchor="middle" class="t" fill="#000" stroke="#000">0.20</text>
<line x1="562.03" y1="614.45" x2="562.03" y2="626.85" stroke="#000" stroke-width="2.0"/>
<text transform="translate(562.03 660.90) scale(0.99 1.0)" text-anchor="middle" class="t" fill="#000" stroke="#000">0.25</text>
<line x1="666.14" y1="614.45" x2="666.14" y2="626.85" stroke="#000" stroke-width="2.0"/>
<text transform="translate(666.14 660.90) scale(0.99 1.0)" text-anchor="middle" class="t" fill="#000" stroke="#000">0.30</text>
<line x1="770.24" y1="614.45" x2="770.24" y2="626.85" stroke="#000" stroke-width="2.0"/>
<text transform="translate(770.24 660.90) scale(0.99 1.0)" text-anchor="middle" class="t" fill="#000" stroke="#000">0.35</text>
<line x1="874.35" y1="614.45" x2="874.35" y2="626.85" stroke="#000" stroke-width="2.0"/>
<text transform="translate(874.35 660.90) scale(0.99 1.0)" text-anchor="middle" class="t" fill="#000" stroke="#000">0.40</text>
<line x1="978.46" y1="614.45" x2="978.46" y2="626.85" stroke="#000" stroke-width="2.0"/>
<text transform="translate(978.46 660.90) scale(0.99 1.0)" text-anchor="middle" class="t" fill="#000" stroke="#000">0.45</text>
<line x1="138.29999999999998" y1="600.74" x2="145.6" y2="600.74" stroke="#000" stroke-width="1.8"/>
<line x1="138.29999999999998" y1="587.02" x2="145.6" y2="587.02" stroke="#000" stroke-width="1.8"/>
<line x1="138.29999999999998" y1="573.31" x2="145.6" y2="573.31" stroke="#000" stroke-width="1.8"/>
<line x1="138.29999999999998" y1="559.59" x2="145.6" y2="559.59" stroke="#000" stroke-width="1.8"/>
<line x1="138.29999999999998" y1="532.16" x2="145.6" y2="532.16" stroke="#000" stroke-width="1.8"/>
<line x1="138.29999999999998" y1="518.45" x2="145.6" y2="518.45" stroke="#000" stroke-width="1.8"/>
<line x1="138.29999999999998" y1="504.73" x2="145.6" y2="504.73" stroke="#000" stroke-width="1.8"/>
<line x1="138.29999999999998" y1="491.02" x2="145.6" y2="491.02" stroke="#000" stroke-width="1.8"/>
<line x1="138.29999999999998" y1="463.59" x2="145.6" y2="463.59" stroke="#000" stroke-width="1.8"/>
<line x1="138.29999999999998" y1="449.87" x2="145.6" y2="449.87" stroke="#000" stroke-width="1.8"/>
<line x1="138.29999999999998" y1="436.16" x2="145.6" y2="436.16" stroke="#000" stroke-width="1.8"/>
<line x1="138.29999999999998" y1="422.44" x2="145.6" y2="422.44" stroke="#000" stroke-width="1.8"/>
<line x1="138.29999999999998" y1="395.01" x2="145.6" y2="395.01" stroke="#000" stroke-width="1.8"/>
<line x1="138.29999999999998" y1="381.30" x2="145.6" y2="381.30" stroke="#000" stroke-width="1.8"/>
<line x1="138.29999999999998" y1="367.58" x2="145.6" y2="367.58" stroke="#000" stroke-width="1.8"/>
<line x1="138.29999999999998" y1="353.87" x2="145.6" y2="353.87" stroke="#000" stroke-width="1.8"/>
<line x1="138.29999999999998" y1="326.44" x2="145.6" y2="326.44" stroke="#000" stroke-width="1.8"/>
<line x1="138.29999999999998" y1="312.73" x2="145.6" y2="312.73" stroke="#000" stroke-width="1.8"/>
<line x1="138.29999999999998" y1="299.01" x2="145.6" y2="299.01" stroke="#000" stroke-width="1.8"/>
<line x1="138.29999999999998" y1="285.30" x2="145.6" y2="285.30" stroke="#000" stroke-width="1.8"/>
<line x1="138.29999999999998" y1="257.87" x2="145.6" y2="257.87" stroke="#000" stroke-width="1.8"/>
<line x1="138.29999999999998" y1="244.15" x2="145.6" y2="244.15" stroke="#000" stroke-width="1.8"/>
<line x1="138.29999999999998" y1="230.44" x2="145.6" y2="230.44" stroke="#000" stroke-width="1.8"/>
<line x1="138.29999999999998" y1="216.72" x2="145.6" y2="216.72" stroke="#000" stroke-width="1.8"/>
<line x1="138.29999999999998" y1="189.29" x2="145.6" y2="189.29" stroke="#000" stroke-width="1.8"/>
<line x1="138.29999999999998" y1="175.58" x2="145.6" y2="175.58" stroke="#000" stroke-width="1.8"/>
<line x1="138.29999999999998" y1="161.86" x2="145.6" y2="161.86" stroke="#000" stroke-width="1.8"/>
<line x1="138.29999999999998" y1="148.15" x2="145.6" y2="148.15" stroke="#000" stroke-width="1.8"/>
<line x1="138.29999999999998" y1="120.72" x2="145.6" y2="120.72" stroke="#000" stroke-width="1.8"/>
<line x1="138.29999999999998" y1="107.00" x2="145.6" y2="107.00" stroke="#000" stroke-width="1.8"/>
<line x1="138.29999999999998" y1="93.29" x2="145.6" y2="93.29" stroke="#000" stroke-width="1.8"/>
<line x1="138.29999999999998" y1="79.57" x2="145.6" y2="79.57" stroke="#000" stroke-width="1.8"/>
<line x1="138.29999999999998" y1="52.14" x2="145.6" y2="52.14" stroke="#000" stroke-width="1.8"/>
<line x1="138.29999999999998" y1="38.43" x2="145.6" y2="38.43" stroke="#000" stroke-width="1.8"/>
<line x1="138.29999999999998" y1="24.71" x2="145.6" y2="24.71" stroke="#000" stroke-width="1.8"/>
<line x1="138.29999999999998" y1="11.00" x2="145.6" y2="11.00" stroke="#000" stroke-width="1.8"/>
<line x1="133.2" y1="614.45" x2="145.6" y2="614.45" stroke="#000" stroke-width="2.0"/>
<text transform="translate(122.70 626.25) scale(0.99 1.0)" text-anchor="end" class="t" fill="#000" stroke="#000">0.800</text>
<line x1="133.2" y1="545.88" x2="145.6" y2="545.88" stroke="#000" stroke-width="2.0"/>
<text transform="translate(122.70 557.68) scale(0.99 1.0)" text-anchor="end" class="t" fill="#000" stroke="#000">0.825</text>
<line x1="133.2" y1="477.30" x2="145.6" y2="477.30" stroke="#000" stroke-width="2.0"/>
<text transform="translate(122.70 489.10) scale(0.99 1.0)" text-anchor="end" class="t" fill="#000" stroke="#000">0.850</text>
<line x1="133.2" y1="408.73" x2="145.6" y2="408.73" stroke="#000" stroke-width="2.0"/>
<text transform="translate(122.70 420.53) scale(0.99 1.0)" text-anchor="end" class="t" fill="#000" stroke="#000">0.875</text>
<line x1="133.2" y1="340.15" x2="145.6" y2="340.15" stroke="#000" stroke-width="2.0"/>
<text transform="translate(122.70 351.95) scale(0.99 1.0)" text-anchor="end" class="t" fill="#000" stroke="#000">0.900</text>
<line x1="133.2" y1="271.58" x2="145.6" y2="271.58" stroke="#000" stroke-width="2.0"/>
<text transform="translate(122.70 283.38) scale(0.99 1.0)" text-anchor="end" class="t" fill="#000" stroke="#000">0.925</text>
<line x1="133.2" y1="203.01" x2="145.6" y2="203.01" stroke="#000" stroke-width="2.0"/>
<text transform="translate(122.70 214.81) scale(0.99 1.0)" text-anchor="end" class="t" fill="#000" stroke="#000">0.950</text>
<line x1="133.2" y1="134.43" x2="145.6" y2="134.43" stroke="#000" stroke-width="2.0"/>
<text transform="translate(122.70 146.23) scale(0.99 1.0)" text-anchor="end" class="t" fill="#000" stroke="#000">0.975</text>
<line x1="133.2" y1="65.86" x2="145.6" y2="65.86" stroke="#000" stroke-width="2.0"/>
<text transform="translate(122.70 77.66) scale(0.99 1.0)" text-anchor="end" class="t" fill="#000" stroke="#000">1.000</text>
<rect x="145.6" y="11.0" width="874.50" height="603.45" fill="none" stroke="#000" stroke-width="2.0" stroke-linejoin="miter"/>
<line x1="1215.08" y1="614.45" x2="1215.08" y2="621.75" stroke="#000" stroke-width="1.8"/>
<line x1="1234.95" y1="614.45" x2="1234.95" y2="621.75" stroke="#000" stroke-width="1.8"/>
<line x1="1254.83" y1="614.45" x2="1254.83" y2="621.75" stroke="#000" stroke-width="1.8"/>
<line x1="1274.71" y1="614.45" x2="1274.71" y2="621.75" stroke="#000" stroke-width="1.8"/>
<line x1="1314.46" y1="614.45" x2="1314.46" y2="621.75" stroke="#000" stroke-width="1.8"/>
<line x1="1334.34" y1="614.45" x2="1334.34" y2="621.75" stroke="#000" stroke-width="1.8"/>
<line x1="1354.22" y1="614.45" x2="1354.22" y2="621.75" stroke="#000" stroke-width="1.8"/>
<line x1="1374.10" y1="614.45" x2="1374.10" y2="621.75" stroke="#000" stroke-width="1.8"/>
<line x1="1413.85" y1="614.45" x2="1413.85" y2="621.75" stroke="#000" stroke-width="1.8"/>
<line x1="1433.73" y1="614.45" x2="1433.73" y2="621.75" stroke="#000" stroke-width="1.8"/>
<line x1="1453.60" y1="614.45" x2="1453.60" y2="621.75" stroke="#000" stroke-width="1.8"/>
<line x1="1473.48" y1="614.45" x2="1473.48" y2="621.75" stroke="#000" stroke-width="1.8"/>
<line x1="1513.24" y1="614.45" x2="1513.24" y2="621.75" stroke="#000" stroke-width="1.8"/>
<line x1="1533.11" y1="614.45" x2="1533.11" y2="621.75" stroke="#000" stroke-width="1.8"/>
<line x1="1552.99" y1="614.45" x2="1552.99" y2="621.75" stroke="#000" stroke-width="1.8"/>
<line x1="1572.87" y1="614.45" x2="1572.87" y2="621.75" stroke="#000" stroke-width="1.8"/>
<line x1="1612.62" y1="614.45" x2="1612.62" y2="621.75" stroke="#000" stroke-width="1.8"/>
<line x1="1632.50" y1="614.45" x2="1632.50" y2="621.75" stroke="#000" stroke-width="1.8"/>
<line x1="1652.38" y1="614.45" x2="1652.38" y2="621.75" stroke="#000" stroke-width="1.8"/>
<line x1="1672.25" y1="614.45" x2="1672.25" y2="621.75" stroke="#000" stroke-width="1.8"/>
<line x1="1712.01" y1="614.45" x2="1712.01" y2="621.75" stroke="#000" stroke-width="1.8"/>
<line x1="1731.89" y1="614.45" x2="1731.89" y2="621.75" stroke="#000" stroke-width="1.8"/>
<line x1="1751.76" y1="614.45" x2="1751.76" y2="621.75" stroke="#000" stroke-width="1.8"/>
<line x1="1771.64" y1="614.45" x2="1771.64" y2="621.75" stroke="#000" stroke-width="1.8"/>
<line x1="1811.40" y1="614.45" x2="1811.40" y2="621.75" stroke="#000" stroke-width="1.8"/>
<line x1="1831.27" y1="614.45" x2="1831.27" y2="621.75" stroke="#000" stroke-width="1.8"/>
<line x1="1851.15" y1="614.45" x2="1851.15" y2="621.75" stroke="#000" stroke-width="1.8"/>
<line x1="1871.03" y1="614.45" x2="1871.03" y2="621.75" stroke="#000" stroke-width="1.8"/>
<line x1="1910.78" y1="614.45" x2="1910.78" y2="621.75" stroke="#000" stroke-width="1.8"/>
<line x1="1930.66" y1="614.45" x2="1930.66" y2="621.75" stroke="#000" stroke-width="1.8"/>
<line x1="1950.54" y1="614.45" x2="1950.54" y2="621.75" stroke="#000" stroke-width="1.8"/>
<line x1="1970.41" y1="614.45" x2="1970.41" y2="621.75" stroke="#000" stroke-width="1.8"/>
<line x1="2010.17" y1="614.45" x2="2010.17" y2="621.75" stroke="#000" stroke-width="1.8"/>
<line x1="2030.05" y1="614.45" x2="2030.05" y2="621.75" stroke="#000" stroke-width="1.8"/>
<line x1="2049.92" y1="614.45" x2="2049.92" y2="621.75" stroke="#000" stroke-width="1.8"/>
<line x1="2069.80" y1="614.45" x2="2069.80" y2="621.75" stroke="#000" stroke-width="1.8"/>
<line x1="1195.20" y1="614.45" x2="1195.20" y2="626.85" stroke="#000" stroke-width="2.0"/>
<text transform="translate(1195.20 660.90) scale(0.99 1.0)" text-anchor="middle" class="t" fill="#000" stroke="#000">0.250</text>
<line x1="1294.59" y1="614.45" x2="1294.59" y2="626.85" stroke="#000" stroke-width="2.0"/>
<text transform="translate(1294.59 660.90) scale(0.99 1.0)" text-anchor="middle" class="t" fill="#000" stroke="#000">0.275</text>
<line x1="1393.97" y1="614.45" x2="1393.97" y2="626.85" stroke="#000" stroke-width="2.0"/>
<text transform="translate(1393.97 660.90) scale(0.99 1.0)" text-anchor="middle" class="t" fill="#000" stroke="#000">0.300</text>
<line x1="1493.36" y1="614.45" x2="1493.36" y2="626.85" stroke="#000" stroke-width="2.0"/>
<text transform="translate(1493.36 660.90) scale(0.99 1.0)" text-anchor="middle" class="t" fill="#000" stroke="#000">0.325</text>
<line x1="1592.75" y1="614.45" x2="1592.75" y2="626.85" stroke="#000" stroke-width="2.0"/>
<text transform="translate(1592.75 660.90) scale(0.99 1.0)" text-anchor="middle" class="t" fill="#000" stroke="#000">0.350</text>
<line x1="1692.13" y1="614.45" x2="1692.13" y2="626.85" stroke="#000" stroke-width="2.0"/>
<text transform="translate(1692.13 660.90) scale(0.99 1.0)" text-anchor="middle" class="t" fill="#000" stroke="#000">0.375</text>
<line x1="1791.52" y1="614.45" x2="1791.52" y2="626.85" stroke="#000" stroke-width="2.0"/>
<text transform="translate(1791.52 660.90) scale(0.99 1.0)" text-anchor="middle" class="t" fill="#000" stroke="#000">0.400</text>
<line x1="1890.90" y1="614.45" x2="1890.90" y2="626.85" stroke="#000" stroke-width="2.0"/>
<text transform="translate(1890.90 660.90) scale(0.99 1.0)" text-anchor="middle" class="t" fill="#000" stroke="#000">0.425</text>
<line x1="1990.29" y1="614.45" x2="1990.29" y2="626.85" stroke="#000" stroke-width="2.0"/>
<text transform="translate(1990.29 660.90) scale(0.99 1.0)" text-anchor="middle" class="t" fill="#000" stroke="#000">0.450</text>
<line x1="1187.9" y1="599.36" x2="1195.2" y2="599.36" stroke="#000" stroke-width="1.8"/>
<line x1="1187.9" y1="584.28" x2="1195.2" y2="584.28" stroke="#000" stroke-width="1.8"/>
<line x1="1187.9" y1="569.19" x2="1195.2" y2="569.19" stroke="#000" stroke-width="1.8"/>
<line x1="1187.9" y1="554.11" x2="1195.2" y2="554.11" stroke="#000" stroke-width="1.8"/>
<line x1="1187.9" y1="523.93" x2="1195.2" y2="523.93" stroke="#000" stroke-width="1.8"/>
<line x1="1187.9" y1="508.85" x2="1195.2" y2="508.85" stroke="#000" stroke-width="1.8"/>
<line x1="1187.9" y1="493.76" x2="1195.2" y2="493.76" stroke="#000" stroke-width="1.8"/>
<line x1="1187.9" y1="478.67" x2="1195.2" y2="478.67" stroke="#000" stroke-width="1.8"/>
<line x1="1187.9" y1="448.50" x2="1195.2" y2="448.50" stroke="#000" stroke-width="1.8"/>
<line x1="1187.9" y1="433.42" x2="1195.2" y2="433.42" stroke="#000" stroke-width="1.8"/>
<line x1="1187.9" y1="418.33" x2="1195.2" y2="418.33" stroke="#000" stroke-width="1.8"/>
<line x1="1187.9" y1="403.24" x2="1195.2" y2="403.24" stroke="#000" stroke-width="1.8"/>
<line x1="1187.9" y1="373.07" x2="1195.2" y2="373.07" stroke="#000" stroke-width="1.8"/>
<line x1="1187.9" y1="357.98" x2="1195.2" y2="357.98" stroke="#000" stroke-width="1.8"/>
<line x1="1187.9" y1="342.90" x2="1195.2" y2="342.90" stroke="#000" stroke-width="1.8"/>
<line x1="1187.9" y1="327.81" x2="1195.2" y2="327.81" stroke="#000" stroke-width="1.8"/>
<line x1="1187.9" y1="297.64" x2="1195.2" y2="297.64" stroke="#000" stroke-width="1.8"/>
<line x1="1187.9" y1="282.55" x2="1195.2" y2="282.55" stroke="#000" stroke-width="1.8"/>
<line x1="1187.9" y1="267.47" x2="1195.2" y2="267.47" stroke="#000" stroke-width="1.8"/>
<line x1="1187.9" y1="252.38" x2="1195.2" y2="252.38" stroke="#000" stroke-width="1.8"/>
<line x1="1187.9" y1="222.21" x2="1195.2" y2="222.21" stroke="#000" stroke-width="1.8"/>
<line x1="1187.9" y1="207.12" x2="1195.2" y2="207.12" stroke="#000" stroke-width="1.8"/>
<line x1="1187.9" y1="192.04" x2="1195.2" y2="192.04" stroke="#000" stroke-width="1.8"/>
<line x1="1187.9" y1="176.95" x2="1195.2" y2="176.95" stroke="#000" stroke-width="1.8"/>
<line x1="1187.9" y1="146.78" x2="1195.2" y2="146.78" stroke="#000" stroke-width="1.8"/>
<line x1="1187.9" y1="131.69" x2="1195.2" y2="131.69" stroke="#000" stroke-width="1.8"/>
<line x1="1187.9" y1="116.60" x2="1195.2" y2="116.60" stroke="#000" stroke-width="1.8"/>
<line x1="1187.9" y1="101.52" x2="1195.2" y2="101.52" stroke="#000" stroke-width="1.8"/>
<line x1="1187.9" y1="71.35" x2="1195.2" y2="71.35" stroke="#000" stroke-width="1.8"/>
<line x1="1187.9" y1="56.26" x2="1195.2" y2="56.26" stroke="#000" stroke-width="1.8"/>
<line x1="1187.9" y1="41.17" x2="1195.2" y2="41.17" stroke="#000" stroke-width="1.8"/>
<line x1="1187.9" y1="26.09" x2="1195.2" y2="26.09" stroke="#000" stroke-width="1.8"/>
<line x1="1182.8" y1="614.45" x2="1195.2" y2="614.45" stroke="#000" stroke-width="2.0"/>
<text transform="translate(1172.30 626.25) scale(0.99 1.0)" text-anchor="end" class="t" fill="#000" stroke="#000">−4</text>
<line x1="1182.8" y1="539.02" x2="1195.2" y2="539.02" stroke="#000" stroke-width="2.0"/>
<text transform="translate(1172.30 550.82) scale(0.99 1.0)" text-anchor="end" class="t" fill="#000" stroke="#000">−3</text>
<line x1="1182.8" y1="463.59" x2="1195.2" y2="463.59" stroke="#000" stroke-width="2.0"/>
<text transform="translate(1172.30 475.39) scale(0.99 1.0)" text-anchor="end" class="t" fill="#000" stroke="#000">−2</text>
<line x1="1182.8" y1="388.16" x2="1195.2" y2="388.16" stroke="#000" stroke-width="2.0"/>
<text transform="translate(1172.30 399.96) scale(0.99 1.0)" text-anchor="end" class="t" fill="#000" stroke="#000">−1</text>
<line x1="1182.8" y1="312.73" x2="1195.2" y2="312.73" stroke="#000" stroke-width="2.0"/>
<text transform="translate(1172.30 324.53) scale(0.99 1.0)" text-anchor="end" class="t" fill="#000" stroke="#000">0</text>
<line x1="1182.8" y1="237.29" x2="1195.2" y2="237.29" stroke="#000" stroke-width="2.0"/>
<text transform="translate(1172.30 249.09) scale(0.99 1.0)" text-anchor="end" class="t" fill="#000" stroke="#000">1</text>
<line x1="1182.8" y1="161.86" x2="1195.2" y2="161.86" stroke="#000" stroke-width="2.0"/>
<text transform="translate(1172.30 173.66) scale(0.99 1.0)" text-anchor="end" class="t" fill="#000" stroke="#000">2</text>
<line x1="1182.8" y1="86.43" x2="1195.2" y2="86.43" stroke="#000" stroke-width="2.0"/>
<text transform="translate(1172.30 98.23) scale(0.99 1.0)" text-anchor="end" class="t" fill="#000" stroke="#000">3</text>
<line x1="1182.8" y1="11.00" x2="1195.2" y2="11.00" stroke="#000" stroke-width="2.0"/>
<text transform="translate(1172.30 22.80) scale(0.99 1.0)" text-anchor="end" class="t" fill="#000" stroke="#000">4</text>
<rect x="1195.2" y="11.0" width="874.60" height="603.45" fill="none" stroke="#000" stroke-width="2.0" stroke-linejoin="miter"/>
<text transform="translate(582.45 700.40) scale(0.99 1.035)" text-anchor="middle" class="t" fill="#000" stroke="#000">spatial frequency [<tspan class="s">mas</tspan><tspan class="s" font-size="21.3" dy="-10">−1</tspan><tspan dy="10">]</tspan></text>
<text transform="translate(1631.80 700.40) scale(0.99 1.035)" text-anchor="middle" class="t" fill="#000" stroke="#000">spatial frequency of largest baseline in triangle [<tspan class="s">mas</tspan><tspan class="s" font-size="21.3" dy="-10">−1</tspan><tspan dy="10">]</tspan></text>
<text transform="translate(24.30 312.73) rotate(-90) scale(0.99 1.035)" text-anchor="middle" class="t" fill="#000" stroke="#000">squared visibility</text>
<text transform="translate(1113.50 312.73) rotate(-90) scale(0.99 1.035)" text-anchor="middle" class="t" fill="#000" stroke="#000">closure phase [deg]</text>
<text transform="translate(172.50 359.70) scale(0.99 1.0)" text-anchor="start" class="t" fill="#ff0000" stroke="#ff0000">AT 4-3</text>
<text transform="translate(172.50 404.00) scale(0.99 1.0)" text-anchor="start" class="t" fill="#0000ff" stroke="#0000ff">AT 4-2</text>
<text transform="translate(172.50 448.30) scale(0.99 1.0)" text-anchor="start" class="t" fill="#8a2be2" stroke="#8a2be2">AT 4-1</text>
<text transform="translate(172.50 492.60) scale(0.99 1.0)" text-anchor="start" class="t" fill="#008000" stroke="#008000">AT 3-2</text>
<text transform="translate(172.50 536.90) scale(0.99 1.0)" text-anchor="start" class="t" fill="#ff00ff" stroke="#ff00ff">AT 3-1</text>
<text transform="translate(172.50 581.20) scale(0.99 1.0)" text-anchor="start" class="t" fill="#daa520" stroke="#daa520">AT 2-1</text>
<text transform="translate(1222.40 61.30) scale(0.99 1.0)" text-anchor="start" class="t" fill="#ff0000" stroke="#ff0000">AT 4-3-2</text>
<text transform="translate(1222.40 105.60) scale(0.99 1.0)" text-anchor="start" class="t" fill="#0000ff" stroke="#0000ff">AT 4-3-1</text>
<text transform="translate(1222.40 149.90) scale(0.99 1.0)" text-anchor="start" class="t" fill="#008000" stroke="#008000">AT 4-2-1</text>
<text transform="translate(1222.40 194.20) scale(0.99 1.0)" text-anchor="start" class="t" fill="#ff00ff" stroke="#ff00ff">AT 3-2-1</text>
</svg>
</body></html>
